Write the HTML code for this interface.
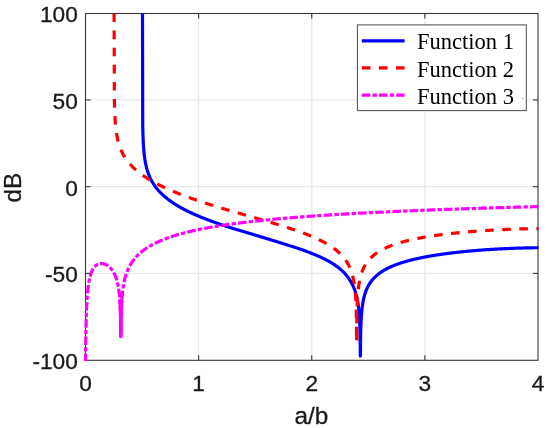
<!DOCTYPE html>
<html lang="en"><head><meta charset="utf-8"><title>Plot</title>
<style>
html,body{margin:0;padding:0;background:#fff;}
svg{display:block;}
.t{font-family:"Liberation Sans",Arial,sans-serif;fill:#1a1a1a;stroke:#1a1a1a;stroke-width:0.30px;}
.lg{font-family:"Liberation Serif","Times New Roman",serif;fill:#000;}
</style></head>
<body>
<svg width="550" height="428" viewBox="0 0 550 428">
<rect x="0" y="0" width="550" height="428" fill="#ffffff"/>
<defs><clipPath id="ax"><rect x="83.7" y="12.9" width="456.1" height="348.0"/></clipPath></defs>
<g stroke="#e9e9e9" stroke-width="1.30" fill="none">
<line x1="198.62" y1="13.50" x2="198.62" y2="360.30"/>
<line x1="311.75" y1="13.50" x2="311.75" y2="360.30"/>
<line x1="424.88" y1="13.50" x2="424.88" y2="360.30"/>
<line x1="85.50" y1="99.90" x2="538.00" y2="99.90"/>
<line x1="85.50" y1="186.70" x2="538.00" y2="186.70"/>
<line x1="85.50" y1="273.40" x2="538.00" y2="273.40"/>
</g>
<g stroke="#363636" stroke-width="1.10" fill="none">
<rect x="85.50" y="13.50" width="452.50" height="346.80"/>
<line x1="198.62" y1="360.30" x2="198.62" y2="355.20"/>
<line x1="198.62" y1="13.50" x2="198.62" y2="18.60"/>
<line x1="311.75" y1="360.30" x2="311.75" y2="355.20"/>
<line x1="311.75" y1="13.50" x2="311.75" y2="18.60"/>
<line x1="424.88" y1="360.30" x2="424.88" y2="355.20"/>
<line x1="424.88" y1="13.50" x2="424.88" y2="18.60"/>
<line x1="85.50" y1="99.90" x2="90.60" y2="99.90"/>
<line x1="538.00" y1="99.90" x2="532.90" y2="99.90"/>
<line x1="85.50" y1="186.70" x2="90.60" y2="186.70"/>
<line x1="538.00" y1="186.70" x2="532.90" y2="186.70"/>
<line x1="85.50" y1="273.40" x2="90.60" y2="273.40"/>
<line x1="538.00" y1="273.40" x2="532.90" y2="273.40"/>
</g>
<g clip-path="url(#ax)" fill="none" stroke-width="3.20" stroke-linejoin="round">
<path d="M142.48 13.50 L142.74 125.80 L143.01 136.26 L143.27 142.41 L143.53 146.78 L143.80 150.19 L144.06 152.98 L144.33 155.35 L144.59 157.41 L144.86 159.23 L145.12 160.87 L145.38 162.35 L145.65 163.71 L145.91 164.97 L146.18 166.13 L146.44 167.22 L146.70 168.24 L146.97 169.20 L147.23 170.11 L147.50 170.98 L147.76 171.80 L148.03 172.59 L148.29 173.34 L148.55 174.05 L148.82 174.75 L149.08 175.41 L149.35 176.05 L149.61 176.67 L149.88 177.27 L150.14 177.85 L150.40 178.41 L150.67 178.95 L150.93 179.48 L151.20 179.99 L151.46 180.49 L151.72 180.98 L151.99 181.45 L152.25 181.91 L152.52 182.36 L152.78 182.80 L153.05 183.24 L153.31 183.66 L153.57 184.07 L153.84 184.47 L154.10 184.87 L154.37 185.26 L154.63 185.64 L154.89 186.01 L155.16 186.38 L155.42 186.74 L155.69 187.09 L155.95 187.44 L156.22 187.78 L156.48 188.12 L156.74 188.45 L157.01 188.77 L157.27 189.09 L157.54 189.41 L157.80 189.72 L158.07 190.03 L158.33 190.33 L158.59 190.63 L158.86 190.92 L159.12 191.21 L159.39 191.49 L159.65 191.78 L159.91 192.06 L160.18 192.33 L160.44 192.60 L160.71 192.87 L160.97 193.14 L161.24 193.40 L161.50 193.66 L161.76 193.91 L162.03 194.17 L162.29 194.42 L162.56 194.66 L162.82 194.91 L163.08 195.15 L163.35 195.39 L163.61 195.63 L163.88 195.86 L164.14 196.10 L164.41 196.33 L164.67 196.56 L164.93 196.78 L165.20 197.01 L165.46 197.23 L165.73 197.45 L165.99 197.67 L166.26 197.88 L166.52 198.10 L166.78 198.31 L167.05 198.52 L167.31 198.73 L167.58 198.93 L167.84 199.14 L168.10 199.34 L168.37 199.54 L168.63 199.74 L168.90 199.94 L169.16 200.14 L169.43 200.34 L169.69 200.53 L169.95 200.72 L170.22 200.91 L170.48 201.10 L170.75 201.29 L171.01 201.48 L171.27 201.66 L171.54 201.85 L171.80 202.03 L172.07 202.21 L172.33 202.39 L172.60 202.57 L172.86 202.75 L173.12 202.93 L173.39 203.10 L173.65 203.28 L173.92 203.45 L174.18 203.63 L174.44 203.80 L174.71 203.97 L174.97 204.14 L175.24 204.30 L175.50 204.47 L175.77 204.64 L176.03 204.80 L176.29 204.97 L176.56 205.13 L176.82 205.29 L177.09 205.45 L177.35 205.62 L177.62 205.77 L177.88 205.93 L178.14 206.09 L178.41 206.25 L178.67 206.40 L178.94 206.56 L179.20 206.71 L179.46 206.87 L179.73 207.02 L179.99 207.17 L180.26 207.32 L180.52 207.47 L180.79 207.62 L181.05 207.77 L181.31 207.92 L181.58 208.07 L181.84 208.21 L182.11 208.36 L182.37 208.50 L182.63 208.64 L182.90 208.78 L183.16 208.92 L183.43 209.06 L183.69 209.20 L183.96 209.34 L184.22 209.48 L184.48 209.62 L184.75 209.75 L185.01 209.89 L185.28 210.02 L185.54 210.16 L185.81 210.29 L186.07 210.42 L186.33 210.56 L186.60 210.69 L186.86 210.82 L187.13 210.95 L187.39 211.08 L187.65 211.21 L187.92 211.33 L188.18 211.46 L188.45 211.59 L188.71 211.71 L188.98 211.84 L189.24 211.96 L189.50 212.09 L189.77 212.21 L190.03 212.34 L190.30 212.46 L190.56 212.58 L190.82 212.71 L191.09 212.83 L191.35 212.95 L191.62 213.07 L191.88 213.19 L192.15 213.31 L192.41 213.43 L192.67 213.55 L192.94 213.67 L193.20 213.79 L193.47 213.90 L193.73 214.02 L194.00 214.14 L194.26 214.26 L194.52 214.37 L194.79 214.49 L195.05 214.61 L195.32 214.72 L195.58 214.84 L195.84 214.95 L196.11 215.07 L196.37 215.18 L196.64 215.30 L196.90 215.41 L197.17 215.52 L197.43 215.64 L197.69 215.75 L197.96 215.86 L198.22 215.97 L198.49 216.08 L198.75 216.20 L199.01 216.31 L199.28 216.42 L199.54 216.53 L199.81 216.64 L200.07 216.75 L200.34 216.86 L200.60 216.96 L200.86 217.07 L201.13 217.18 L201.39 217.29 L201.66 217.40 L201.92 217.50 L202.19 217.61 L202.45 217.72 L202.71 217.82 L202.98 217.93 L203.24 218.03 L203.51 218.14 L203.77 218.24 L204.03 218.35 L204.30 218.45 L204.56 218.56 L204.83 218.66 L205.09 218.76 L205.36 218.87 L205.62 218.97 L205.88 219.07 L206.15 219.18 L206.41 219.28 L206.68 219.38 L206.94 219.48 L207.20 219.58 L207.47 219.68 L207.73 219.78 L208.00 219.88 L208.26 219.98 L208.53 220.08 L208.79 220.18 L209.05 220.28 L209.32 220.38 L209.58 220.48 L209.85 220.58 L210.11 220.68 L210.37 220.78 L210.64 220.88 L210.90 220.97 L211.17 221.07 L211.43 221.17 L211.70 221.26 L211.96 221.36 L212.22 221.46 L212.49 221.55 L212.75 221.65 L213.02 221.75 L213.28 221.84 L213.55 221.94 L213.81 222.03 L214.07 222.13 L214.34 222.22 L214.60 222.32 L214.87 222.41 L215.13 222.51 L215.39 222.60 L215.66 222.69 L215.92 222.79 L216.19 222.88 L216.45 222.97 L216.72 223.07 L216.98 223.16 L217.24 223.25 L217.51 223.34 L217.77 223.44 L218.04 223.53 L218.30 223.62 L218.56 223.71 L218.83 223.80 L219.09 223.89 L219.36 223.98 L219.62 224.07 L219.89 224.16 L220.15 224.25 L220.41 224.34 L220.68 224.43 L220.94 224.52 L221.21 224.61 L221.47 224.70 L221.74 224.79 L222.00 224.88 L222.26 224.97 L222.53 225.06 L222.79 225.15 L223.06 225.24 L223.32 225.32 L223.58 225.41 L223.85 225.50 L224.11 225.59 L224.38 225.68 L224.64 225.76 L224.91 225.85 L225.17 225.94 L225.43 226.02 L225.70 226.11 L225.96 226.20 L226.23 226.28 L226.49 226.37 L226.75 226.45 L227.02 226.54 L227.28 226.62 L227.55 226.71 L227.81 226.79 L228.08 226.88 L228.34 226.96 L228.60 227.05 L228.87 227.13 L229.13 227.21 L229.40 227.30 L229.66 227.38 L229.93 227.46 L230.19 227.55 L230.45 227.63 L230.72 227.71 L230.98 227.79 L231.25 227.88 L231.51 227.96 L231.77 228.04 L232.04 228.12 L232.30 228.20 L232.57 228.29 L232.83 228.37 L233.10 228.45 L233.36 228.53 L233.62 228.61 L233.89 228.69 L234.15 228.77 L234.42 228.85 L234.68 228.93 L234.94 229.01 L235.21 229.09 L235.47 229.17 L235.74 229.25 L236.00 229.33 L236.27 229.41 L236.53 229.49 L236.79 229.57 L237.06 229.65 L237.32 229.73 L237.59 229.81 L237.85 229.89 L238.11 229.97 L238.38 230.05 L238.64 230.13 L238.91 230.21 L239.17 230.28 L239.44 230.36 L239.70 230.44 L239.96 230.52 L240.23 230.60 L240.49 230.68 L240.76 230.76 L241.02 230.83 L241.29 230.91 L241.55 230.99 L241.81 231.07 L242.08 231.15 L242.34 231.23 L242.61 231.30 L242.87 231.38 L243.13 231.46 L243.40 231.54 L243.66 231.62 L243.93 231.70 L244.19 231.77 L244.46 231.85 L244.72 231.93 L244.98 232.01 L245.25 232.09 L245.51 232.17 L245.78 232.24 L246.04 232.32 L246.30 232.40 L246.57 232.48 L246.83 232.56 L247.10 232.64 L247.36 232.71 L247.63 232.79 L247.89 232.87 L248.15 232.95 L248.42 233.03 L248.68 233.11 L248.95 233.18 L249.21 233.26 L249.48 233.34 L249.74 233.42 L250.00 233.50 L250.27 233.58 L250.53 233.66 L250.80 233.74 L251.06 233.82 L251.32 233.90 L251.59 233.98 L251.85 234.05 L252.12 234.13 L252.38 234.21 L252.65 234.29 L252.91 234.37 L253.17 234.45 L253.44 234.53 L253.70 234.61 L253.97 234.69 L254.23 234.78 L254.49 234.86 L254.76 234.94 L255.02 235.02 L255.29 235.10 L255.55 235.18 L255.82 235.26 L256.08 235.34 L256.34 235.42 L256.61 235.50 L256.87 235.58 L257.14 235.66 L257.40 235.74 L257.67 235.82 L257.93 235.90 L258.19 235.99 L258.46 236.07 L258.72 236.15 L258.99 236.23 L259.25 236.31 L259.51 236.39 L259.78 236.47 L260.04 236.55 L260.31 236.63 L260.57 236.71 L260.84 236.79 L261.10 236.87 L261.36 236.95 L261.63 237.03 L261.89 237.11 L262.16 237.19 L262.42 237.27 L262.68 237.35 L262.95 237.43 L263.21 237.51 L263.48 237.59 L263.74 237.67 L264.01 237.75 L264.27 237.83 L264.53 237.92 L264.80 238.00 L265.06 238.08 L265.33 238.16 L265.59 238.24 L265.86 238.32 L266.12 238.40 L266.38 238.48 L266.65 238.56 L266.91 238.64 L267.18 238.72 L267.44 238.80 L267.70 238.88 L267.97 238.96 L268.23 239.04 L268.50 239.12 L268.76 239.20 L269.03 239.28 L269.29 239.36 L269.55 239.44 L269.82 239.52 L270.08 239.60 L270.35 239.68 L270.61 239.77 L270.87 239.85 L271.14 239.93 L271.40 240.01 L271.67 240.09 L271.93 240.17 L272.20 240.25 L272.46 240.33 L272.72 240.41 L272.99 240.49 L273.25 240.57 L273.52 240.65 L273.78 240.74 L274.04 240.82 L274.31 240.90 L274.57 240.98 L274.84 241.06 L275.10 241.14 L275.37 241.22 L275.63 241.30 L275.89 241.39 L276.16 241.47 L276.42 241.55 L276.69 241.63 L276.95 241.71 L277.22 241.79 L277.48 241.88 L277.74 241.96 L278.01 242.04 L278.27 242.12 L278.54 242.20 L278.80 242.29 L279.06 242.37 L279.33 242.45 L279.59 242.53 L279.86 242.61 L280.12 242.70 L280.39 242.78 L280.65 242.86 L280.91 242.94 L281.18 243.03 L281.44 243.11 L281.71 243.19 L281.97 243.28 L282.23 243.36 L282.50 243.44 L282.76 243.52 L283.03 243.61 L283.29 243.69 L283.56 243.77 L283.82 243.86 L284.08 243.94 L284.35 244.03 L284.61 244.11 L284.88 244.19 L285.14 244.28 L285.41 244.36 L285.67 244.44 L285.93 244.53 L286.20 244.61 L286.46 244.69 L286.73 244.78 L286.99 244.86 L287.25 244.94 L287.52 245.02 L287.78 245.10 L288.05 245.19 L288.31 245.27 L288.58 245.35 L288.84 245.43 L289.10 245.51 L289.37 245.59 L289.63 245.68 L289.90 245.76 L290.16 245.84 L290.42 245.92 L290.69 246.00 L290.95 246.08 L291.22 246.16 L291.48 246.25 L291.75 246.33 L292.01 246.41 L292.27 246.49 L292.54 246.57 L292.80 246.66 L293.07 246.74 L293.33 246.82 L293.60 246.90 L293.86 246.99 L294.12 247.07 L294.39 247.15 L294.65 247.24 L294.92 247.32 L295.18 247.41 L295.44 247.49 L295.71 247.58 L295.97 247.66 L296.24 247.75 L296.50 247.83 L296.77 247.92 L297.03 248.01 L297.29 248.09 L297.56 248.18 L297.82 248.27 L298.09 248.36 L298.35 248.45 L298.61 248.54 L298.88 248.63 L299.14 248.72 L299.41 248.81 L299.67 248.90 L299.94 248.99 L300.20 249.08 L300.46 249.18 L300.73 249.27 L300.99 249.36 L301.26 249.46 L301.52 249.55 L301.78 249.64 L302.05 249.74 L302.31 249.83 L302.58 249.93 L302.84 250.02 L303.11 250.12 L303.37 250.21 L303.63 250.31 L303.90 250.41 L304.16 250.50 L304.43 250.60 L304.69 250.69 L304.96 250.79 L305.22 250.89 L305.48 250.99 L305.75 251.08 L306.01 251.18 L306.28 251.28 L306.54 251.38 L306.80 251.48 L307.07 251.58 L307.33 251.68 L307.60 251.78 L307.86 251.88 L308.13 251.98 L308.39 252.08 L308.65 252.18 L308.92 252.28 L309.18 252.38 L309.45 252.49 L309.71 252.59 L309.97 252.69 L310.24 252.79 L310.50 252.90 L310.77 253.00 L311.03 253.11 L311.30 253.21 L311.56 253.32 L311.82 253.42 L312.09 253.53 L312.35 253.63 L312.62 253.74 L312.88 253.85 L313.15 253.96 L313.41 254.06 L313.67 254.17 L313.94 254.28 L314.20 254.39 L314.47 254.50 L314.73 254.61 L314.99 254.72 L315.26 254.83 L315.52 254.94 L315.79 255.05 L316.05 255.16 L316.32 255.28 L316.58 255.39 L316.84 255.50 L317.11 255.62 L317.37 255.73 L317.64 255.85 L317.90 255.96 L318.16 256.08 L318.43 256.20 L318.69 256.31 L318.96 256.43 L319.22 256.55 L319.49 256.67 L319.75 256.79 L320.01 256.91 L320.28 257.03 L320.54 257.15 L320.81 257.27 L321.07 257.40 L321.34 257.52 L321.60 257.64 L321.86 257.77 L322.13 257.89 L322.39 258.02 L322.66 258.14 L322.92 258.27 L323.18 258.40 L323.45 258.53 L323.71 258.66 L323.98 258.79 L324.24 258.92 L324.51 259.05 L324.77 259.18 L325.03 259.31 L325.30 259.45 L325.56 259.58 L325.83 259.72 L326.09 259.85 L326.35 259.99 L326.62 260.13 L326.88 260.27 L327.15 260.41 L327.41 260.55 L327.68 260.69 L327.94 260.83 L328.20 260.97 L328.47 261.12 L328.73 261.26 L329.00 261.41 L329.26 261.56 L329.53 261.70 L329.79 261.85 L330.05 262.00 L330.32 262.16 L330.58 262.31 L330.85 262.46 L331.11 262.62 L331.37 262.78 L331.64 262.94 L331.90 263.10 L332.17 263.26 L332.43 263.42 L332.70 263.59 L332.96 263.76 L333.22 263.93 L333.49 264.10 L333.75 264.27 L334.02 264.44 L334.28 264.62 L334.54 264.80 L334.81 264.97 L335.07 265.16 L335.34 265.34 L335.60 265.52 L335.87 265.71 L336.13 265.90 L336.39 266.09 L336.66 266.28 L336.92 266.48 L337.19 266.67 L337.45 266.87 L337.71 267.07 L337.98 267.27 L338.24 267.48 L338.51 267.69 L338.77 267.90 L339.04 268.11 L339.30 268.32 L339.56 268.54 L339.83 268.76 L340.09 268.98 L340.36 269.21 L340.62 269.44 L340.89 269.67 L341.15 269.90 L341.41 270.14 L341.68 270.37 L341.94 270.62 L342.21 270.86 L342.47 271.11 L342.73 271.36 L343.00 271.62 L343.26 271.88 L343.53 272.14 L343.79 272.40 L344.06 272.67 L344.32 272.95 L344.58 273.23 L344.85 273.51 L345.11 273.80 L345.38 274.09 L345.64 274.39 L345.90 274.69 L346.17 275.00 L346.43 275.32 L346.70 275.64 L346.96 275.97 L347.23 276.31 L347.49 276.65 L347.75 277.00 L348.02 277.36 L348.28 277.72 L348.55 278.10 L348.81 278.48 L349.08 278.86 L349.34 279.26 L349.60 279.66 L349.87 280.08 L350.13 280.50 L350.40 280.93 L350.66 281.38 L350.92 281.83 L351.19 282.30 L351.45 282.77 L351.72 283.26 L351.98 283.76 L352.25 284.28 L352.51 284.81 L352.77 285.36 L353.04 285.92 L353.30 286.50 L353.57 287.11 L353.83 287.74 L354.09 288.39 L354.36 289.07 L354.62 289.78 L354.89 290.52 L355.15 291.29 L355.42 292.11 L355.68 292.96 L355.94 293.87 L356.21 294.82 L356.47 295.84 L356.74 296.93 L356.98 297.99 L357.17 298.88 L357.27 299.35 L357.35 299.76 L357.52 300.65 L357.67 301.53 L357.79 302.22 L357.97 303.29 L358.06 303.88 L358.10 304.18 L358.23 305.05 L358.32 305.74 L358.46 306.81 L358.57 307.69 L358.67 308.56 L358.76 309.44 L358.85 310.30 L358.94 311.19 L359.02 312.06 L359.09 312.94 L359.16 313.81 L359.23 314.68 L359.29 315.56 L359.35 316.43 L359.38 316.82 L359.41 317.30 L359.46 318.17 L359.51 319.04 L359.56 319.91 L359.60 320.79 L359.64 321.57 L359.69 322.53 L359.72 323.40 L359.76 324.27 L359.79 325.14 L359.83 326.01 L359.86 326.88 L359.88 327.75 L359.91 328.51 L359.94 329.49 L359.96 330.35 L359.98 331.22 L360.00 332.09 L360.02 332.96 L360.04 333.83 L360.06 334.70 L360.08 335.57 L360.09 336.44 L360.11 337.31 L360.12 338.18 L360.13 339.04 L360.15 339.91 L360.16 340.78 L360.17 341.65 L360.18 342.52 L360.19 343.39 L360.20 344.25 L360.21 345.12 L360.22 345.99 L360.22 346.86 L360.23 347.73 L360.24 348.60 L360.25 349.46 L360.25 350.33 L360.26 351.20 L360.26 352.07 L360.27 352.94 L360.27 353.81 L360.28 354.67 L360.28 355.54 L360.29 356.04 L360.43 355.55 L360.44 354.98 L360.44 353.82 L360.45 352.95 L360.45 352.08 L360.46 351.21 L360.46 350.35 L360.47 349.48 L360.48 348.61 L360.48 347.74 L360.49 346.88 L360.50 346.01 L360.51 345.14 L360.52 344.27 L360.53 343.41 L360.54 342.54 L360.55 341.67 L360.56 340.80 L360.57 339.94 L360.58 339.07 L360.59 338.20 L360.61 337.34 L360.62 336.47 L360.64 335.60 L360.66 334.73 L360.67 333.87 L360.69 333.00 L360.71 332.13 L360.73 331.27 L360.76 330.40 L360.78 329.53 L360.81 328.67 L360.83 327.80 L360.86 326.94 L360.89 326.07 L360.92 325.20 L360.96 324.34 L360.99 323.47 L361.03 322.61 L361.07 321.74 L361.11 320.87 L361.16 320.01 L361.20 319.14 L361.23 318.71 L361.25 318.28 L361.31 317.41 L361.36 316.55 L361.42 315.68 L361.49 314.82 L361.55 313.96 L361.62 313.09 L361.70 312.23 L361.76 311.61 L361.86 310.50 L361.95 309.64 L362.02 309.02 L362.15 307.92 L362.25 307.05 L362.37 306.19 L362.49 305.33 L362.55 304.91 L362.61 304.47 L362.75 303.61 L362.81 303.21 L362.89 302.75 L363.04 301.89 L363.20 301.03 L363.34 300.31 L363.55 299.32 L363.61 299.05 L363.74 298.46 L363.87 297.89 L363.94 297.60 L364.13 296.82 L364.40 295.82 L364.66 294.88 L364.93 294.00 L365.19 293.17 L365.45 292.38 L365.72 291.64 L365.98 290.93 L366.25 290.26 L366.51 289.61 L366.78 288.99 L367.04 288.40 L367.30 287.83 L367.57 287.29 L367.83 286.76 L368.10 286.25 L368.36 285.76 L368.63 285.29 L368.89 284.83 L369.15 284.39 L369.42 283.96 L369.68 283.54 L369.95 283.13 L370.21 282.74 L370.47 282.36 L370.74 281.98 L371.00 281.62 L371.27 281.26 L371.53 280.92 L371.80 280.58 L372.06 280.25 L372.32 279.93 L372.59 279.62 L372.85 279.31 L373.12 279.01 L373.38 278.72 L373.64 278.43 L373.91 278.15 L374.17 277.87 L374.44 277.60 L374.70 277.33 L374.97 277.07 L375.23 276.82 L375.49 276.57 L375.76 276.32 L376.02 276.08 L376.29 275.84 L376.55 275.61 L376.82 275.38 L377.08 275.15 L377.34 274.93 L377.61 274.71 L377.87 274.50 L378.14 274.28 L378.40 274.08 L378.66 273.87 L378.93 273.67 L379.19 273.47 L379.46 273.27 L379.72 273.08 L379.99 272.89 L380.25 272.70 L380.51 272.52 L380.78 272.33 L381.04 272.15 L381.31 271.98 L381.57 271.80 L381.83 271.63 L382.10 271.46 L382.36 271.29 L382.63 271.12 L382.89 270.96 L383.16 270.80 L383.42 270.64 L383.68 270.48 L383.95 270.32 L384.21 270.17 L384.48 270.02 L384.74 269.87 L385.01 269.72 L385.27 269.57 L385.53 269.42 L385.80 269.28 L386.06 269.14 L386.33 269.00 L386.59 268.86 L386.85 268.72 L387.12 268.58 L387.38 268.45 L387.65 268.31 L387.91 268.18 L388.18 268.05 L388.44 267.92 L388.70 267.79 L388.97 267.67 L389.23 267.54 L389.50 267.42 L389.76 267.29 L390.02 267.17 L390.29 267.05 L390.55 266.93 L390.82 266.81 L391.08 266.70 L391.35 266.58 L391.61 266.46 L391.87 266.35 L392.14 266.24 L392.40 266.12 L392.67 266.01 L392.93 265.90 L393.20 265.79 L393.46 265.69 L393.72 265.58 L393.99 265.47 L394.25 265.37 L394.52 265.26 L394.78 265.16 L395.04 265.06 L395.31 264.95 L395.57 264.85 L395.84 264.75 L396.10 264.65 L396.37 264.56 L396.63 264.46 L396.89 264.36 L397.16 264.26 L397.42 264.17 L397.69 264.07 L397.95 263.98 L398.21 263.89 L398.48 263.80 L398.74 263.70 L399.01 263.61 L399.27 263.52 L399.54 263.43 L399.80 263.34 L400.06 263.25 L400.33 263.17 L400.59 263.08 L400.86 262.99 L401.12 262.91 L401.38 262.82 L401.65 262.74 L401.91 262.65 L402.18 262.57 L402.44 262.49 L402.71 262.41 L402.97 262.32 L403.23 262.24 L403.50 262.16 L403.76 262.08 L404.03 262.00 L404.29 261.92 L404.56 261.84 L404.82 261.77 L405.08 261.69 L405.35 261.61 L405.61 261.54 L405.88 261.46 L406.14 261.39 L406.40 261.31 L406.67 261.24 L406.93 261.16 L407.20 261.09 L407.46 261.02 L407.73 260.94 L407.99 260.87 L408.25 260.80 L408.52 260.73 L408.78 260.66 L409.05 260.59 L409.31 260.52 L409.57 260.45 L409.84 260.38 L410.10 260.31 L410.37 260.24 L410.63 260.18 L410.90 260.11 L411.16 260.04 L411.42 259.97 L411.69 259.91 L411.95 259.84 L412.22 259.78 L412.48 259.71 L412.75 259.65 L413.01 259.58 L413.27 259.52 L413.54 259.46 L413.80 259.39 L414.07 259.33 L414.33 259.27 L414.59 259.21 L414.86 259.14 L415.12 259.08 L415.39 259.02 L415.65 258.96 L415.92 258.90 L416.18 258.84 L416.44 258.78 L416.71 258.72 L416.97 258.66 L417.24 258.60 L417.50 258.55 L417.76 258.49 L418.03 258.43 L418.29 258.37 L418.56 258.32 L418.82 258.26 L419.09 258.20 L419.35 258.15 L419.61 258.09 L419.88 258.04 L420.14 257.98 L420.41 257.92 L420.67 257.87 L420.94 257.82 L421.20 257.76 L421.46 257.71 L421.73 257.65 L421.99 257.60 L422.26 257.55 L422.52 257.49 L422.78 257.44 L423.05 257.39 L423.31 257.34 L423.58 257.29 L423.84 257.23 L424.11 257.18 L424.37 257.13 L424.63 257.08 L424.90 257.03 L425.16 256.98 L425.43 256.93 L425.69 256.88 L425.95 256.83 L426.22 256.78 L426.48 256.73 L426.75 256.68 L427.01 256.64 L427.28 256.59 L427.54 256.54 L427.80 256.49 L428.07 256.44 L428.33 256.40 L428.60 256.35 L428.86 256.30 L429.12 256.26 L429.39 256.21 L429.65 256.16 L429.92 256.12 L430.18 256.07 L430.45 256.03 L430.71 255.98 L430.97 255.94 L431.24 255.89 L431.50 255.85 L431.77 255.80 L432.03 255.76 L432.30 255.71 L432.56 255.67 L432.82 255.63 L433.09 255.58 L433.35 255.54 L433.62 255.50 L433.88 255.45 L434.14 255.41 L434.41 255.37 L434.67 255.32 L434.94 255.28 L435.20 255.24 L435.47 255.20 L435.73 255.16 L435.99 255.12 L436.26 255.07 L436.52 255.03 L436.79 254.99 L437.05 254.95 L437.31 254.91 L437.58 254.87 L437.84 254.83 L438.11 254.79 L438.37 254.75 L438.64 254.71 L438.90 254.67 L439.16 254.63 L439.43 254.59 L439.69 254.55 L439.96 254.52 L440.22 254.48 L440.49 254.44 L440.75 254.40 L441.01 254.36 L441.28 254.32 L441.54 254.29 L441.81 254.25 L442.07 254.21 L442.33 254.17 L442.60 254.14 L442.86 254.10 L443.13 254.06 L443.39 254.03 L443.66 253.99 L443.92 253.95 L444.18 253.92 L444.45 253.88 L444.71 253.85 L445.24 253.77 L445.77 253.70 L446.30 253.63 L446.83 253.56 L447.35 253.50 L447.88 253.43 L448.41 253.36 L448.94 253.29 L449.47 253.23 L450.00 253.16 L450.52 253.09 L451.05 253.03 L451.58 252.96 L452.11 252.90 L452.64 252.84 L453.17 252.77 L453.69 252.71 L454.22 252.65 L454.75 252.59 L455.28 252.53 L455.81 252.47 L456.34 252.41 L456.87 252.35 L457.39 252.29 L457.92 252.23 L458.45 252.17 L458.98 252.12 L459.51 252.06 L460.04 252.00 L460.56 251.95 L461.09 251.89 L461.62 251.84 L462.15 251.78 L462.68 251.73 L463.21 251.68 L463.73 251.62 L464.26 251.57 L464.79 251.52 L465.32 251.47 L465.85 251.41 L466.38 251.36 L466.90 251.31 L467.43 251.26 L467.96 251.21 L468.49 251.16 L469.02 251.12 L469.55 251.07 L470.07 251.02 L470.60 250.97 L471.13 250.92 L471.66 250.88 L472.19 250.83 L472.72 250.78 L473.24 250.74 L473.77 250.69 L474.30 250.65 L474.83 250.60 L475.36 250.56 L475.89 250.52 L476.42 250.47 L476.94 250.43 L477.47 250.39 L478.00 250.35 L478.53 250.30 L479.06 250.26 L479.59 250.22 L480.11 250.18 L480.64 250.14 L481.17 250.10 L481.70 250.06 L482.23 250.02 L482.76 249.98 L483.28 249.95 L483.81 249.91 L484.34 249.87 L484.87 249.83 L485.40 249.80 L485.93 249.76 L486.45 249.72 L486.98 249.69 L487.51 249.65 L488.04 249.62 L488.57 249.58 L489.10 249.55 L489.62 249.51 L490.15 249.48 L490.68 249.44 L491.21 249.41 L491.74 249.38 L492.27 249.35 L492.79 249.31 L493.32 249.28 L493.85 249.25 L494.38 249.22 L494.91 249.19 L495.44 249.16 L495.97 249.13 L496.49 249.10 L497.02 249.07 L497.55 249.04 L498.08 249.01 L498.61 248.98 L499.14 248.95 L499.66 248.93 L500.19 248.90 L500.72 248.87 L501.25 248.84 L501.78 248.82 L502.31 248.79 L502.83 248.76 L503.36 248.74 L503.89 248.71 L504.42 248.69 L504.95 248.66 L505.48 248.64 L506.00 248.62 L506.53 248.59 L507.06 248.57 L507.59 248.55 L508.12 248.52 L508.65 248.50 L509.17 248.48 L509.70 248.46 L510.23 248.43 L510.76 248.41 L511.29 248.39 L511.82 248.37 L512.35 248.35 L512.87 248.33 L513.40 248.31 L513.93 248.29 L514.46 248.27 L514.99 248.25 L515.52 248.23 L516.04 248.22 L516.57 248.20 L517.10 248.18 L517.63 248.16 L518.16 248.15 L518.69 248.13 L519.21 248.11 L519.74 248.10 L520.27 248.08 L520.80 248.07 L521.33 248.05 L521.86 248.04 L522.38 248.02 L522.91 248.01 L523.44 247.99 L523.97 247.98 L524.50 247.97 L525.03 247.95 L525.55 247.94 L526.08 247.93 L526.61 247.91 L527.14 247.90 L527.67 247.89 L528.20 247.88 L528.72 247.87 L529.25 247.86 L529.78 247.85 L530.31 247.84 L530.84 247.83 L531.37 247.82 L531.90 247.81 L532.42 247.80 L532.95 247.79 L533.48 247.78 L534.01 247.77 L534.54 247.77 L535.07 247.76 L535.59 247.75 L536.12 247.74 L536.65 247.74 L537.18 247.73 L537.71 247.73 L538.24 247.72 L538.50 247.72" stroke="#0000ff"/>
<path d="M114.09 13.50 L114.37 100.62 L114.65 111.09 L114.94 117.24 L115.22 121.62 L115.50 125.02 L115.79 127.82 L116.07 130.19 L116.35 132.25 L116.64 134.08 L116.92 135.71 L117.20 137.20 L117.49 138.56 L117.77 139.82 L118.05 140.99 L118.33 142.08 L118.62 143.10 L118.90 144.07 L119.18 144.98 L119.47 145.85 L119.75 146.67 L120.03 147.46 L120.32 148.22 L120.60 148.94 L120.88 149.63 L121.17 150.30 L121.45 150.94 L121.73 151.56 L122.02 152.16 L122.30 152.74 L122.58 153.31 L122.86 153.85 L123.15 154.38 L123.43 154.90 L123.71 155.40 L124.00 155.89 L124.28 156.37 L124.56 156.83 L124.85 157.29 L125.13 157.73 L125.41 158.16 L125.70 158.59 L125.98 159.00 L126.26 159.41 L126.55 159.81 L126.83 160.20 L127.11 160.58 L127.39 160.96 L127.68 161.33 L127.96 161.69 L128.24 162.05 L128.53 162.40 L128.81 162.74 L129.09 163.08 L129.38 163.41 L129.66 163.74 L129.94 164.06 L130.23 164.38 L130.51 164.70 L130.79 165.01 L131.08 165.31 L131.36 165.61 L131.64 165.91 L131.93 166.20 L132.21 166.49 L132.49 166.77 L132.77 167.05 L133.06 167.33 L133.34 167.61 L133.62 167.88 L133.91 168.15 L134.19 168.41 L134.47 168.67 L134.76 168.93 L135.04 169.19 L135.32 169.44 L135.61 169.69 L135.89 169.94 L136.17 170.18 L136.46 170.43 L136.74 170.67 L137.02 170.91 L137.30 171.14 L137.59 171.37 L137.87 171.61 L138.15 171.83 L138.44 172.06 L138.72 172.29 L139.00 172.51 L139.29 172.73 L139.57 172.95 L139.85 173.16 L140.14 173.38 L140.42 173.59 L140.70 173.80 L140.99 174.01 L141.27 174.22 L141.55 174.43 L141.83 174.63 L142.12 174.84 L142.40 175.04 L142.68 175.24 L142.97 175.43 L143.25 175.63 L143.53 175.83 L143.82 176.02 L144.10 176.21 L144.38 176.40 L144.67 176.59 L144.95 176.78 L145.23 176.97 L145.52 177.16 L145.80 177.34 L146.08 177.52 L146.36 177.71 L146.65 177.89 L146.93 178.07 L147.21 178.25 L147.50 178.42 L147.78 178.60 L148.06 178.78 L148.35 178.95 L148.63 179.12 L148.91 179.29 L149.20 179.47 L149.48 179.64 L149.76 179.81 L150.05 179.97 L150.33 180.14 L150.61 180.31 L150.89 180.47 L151.18 180.64 L151.46 180.80 L151.74 180.96 L152.03 181.12 L152.31 181.28 L152.59 181.44 L152.88 181.60 L153.16 181.76 L153.44 181.92 L153.73 182.08 L154.01 182.23 L154.29 182.39 L154.58 182.54 L154.86 182.69 L155.14 182.85 L155.42 183.00 L155.71 183.15 L155.99 183.30 L156.27 183.45 L156.56 183.60 L156.84 183.75 L157.12 183.89 L157.41 184.04 L157.69 184.19 L157.97 184.33 L158.26 184.48 L158.54 184.62 L158.82 184.76 L159.11 184.91 L159.39 185.05 L159.67 185.19 L159.95 185.33 L160.24 185.47 L160.52 185.61 L160.80 185.75 L161.09 185.89 L161.37 186.03 L161.65 186.17 L161.94 186.30 L162.22 186.44 L162.50 186.58 L162.79 186.71 L163.07 186.85 L163.35 186.98 L163.64 187.11 L163.92 187.25 L164.20 187.38 L164.49 187.51 L164.77 187.64 L165.05 187.78 L165.33 187.91 L165.62 188.04 L165.90 188.17 L166.18 188.30 L166.47 188.42 L166.75 188.55 L167.03 188.68 L167.32 188.81 L167.60 188.93 L167.88 189.06 L168.17 189.19 L168.45 189.31 L168.73 189.44 L169.02 189.56 L169.30 189.69 L169.58 189.81 L169.86 189.93 L170.15 190.06 L170.43 190.18 L170.71 190.30 L171.00 190.42 L171.28 190.55 L171.56 190.67 L171.85 190.79 L172.13 190.91 L172.41 191.03 L172.70 191.15 L172.98 191.27 L173.26 191.38 L173.55 191.50 L173.83 191.62 L174.11 191.74 L174.39 191.86 L174.68 191.97 L174.96 192.09 L175.24 192.21 L175.53 192.32 L175.81 192.44 L176.09 192.55 L176.38 192.67 L176.66 192.78 L176.94 192.90 L177.23 193.01 L177.51 193.12 L177.79 193.24 L178.08 193.35 L178.36 193.46 L178.64 193.57 L178.92 193.69 L179.21 193.80 L179.49 193.91 L179.77 194.02 L180.06 194.13 L180.34 194.24 L180.62 194.35 L180.91 194.46 L181.19 194.57 L181.47 194.68 L181.76 194.79 L182.04 194.90 L182.32 195.01 L182.61 195.12 L182.89 195.22 L183.17 195.33 L183.45 195.44 L183.74 195.55 L184.02 195.65 L184.30 195.76 L184.59 195.86 L184.87 195.97 L185.15 196.08 L185.44 196.18 L185.72 196.29 L186.00 196.39 L186.29 196.50 L186.57 196.60 L186.85 196.71 L187.14 196.81 L187.42 196.91 L187.70 197.02 L187.98 197.12 L188.27 197.22 L188.55 197.33 L188.83 197.43 L189.12 197.53 L189.40 197.63 L189.68 197.74 L189.97 197.84 L190.25 197.94 L190.53 198.04 L190.82 198.14 L191.10 198.24 L191.38 198.34 L191.67 198.44 L191.95 198.54 L192.23 198.64 L192.51 198.74 L192.80 198.84 L193.08 198.94 L193.36 199.04 L193.65 199.14 L193.93 199.24 L194.21 199.34 L194.50 199.44 L194.78 199.53 L195.06 199.63 L195.35 199.73 L195.63 199.83 L195.91 199.93 L196.20 200.02 L196.48 200.12 L196.76 200.22 L197.04 200.31 L197.33 200.41 L197.61 200.51 L197.89 200.60 L198.18 200.70 L198.46 200.79 L198.74 200.89 L199.03 200.99 L199.31 201.08 L199.59 201.18 L199.88 201.27 L200.16 201.37 L200.44 201.46 L200.73 201.55 L201.01 201.65 L201.29 201.74 L201.58 201.84 L201.86 201.93 L202.14 202.02 L202.42 202.12 L202.71 202.21 L202.99 202.30 L203.27 202.40 L203.56 202.49 L203.84 202.58 L204.12 202.68 L204.41 202.77 L204.69 202.86 L204.97 202.95 L205.26 203.04 L205.54 203.14 L205.82 203.23 L206.11 203.32 L206.39 203.41 L206.67 203.50 L206.95 203.59 L207.24 203.68 L207.52 203.77 L207.80 203.87 L208.09 203.96 L208.37 204.05 L208.65 204.14 L208.94 204.23 L209.22 204.32 L209.50 204.41 L209.79 204.50 L210.07 204.59 L210.35 204.68 L210.64 204.77 L210.92 204.85 L211.20 204.94 L211.48 205.03 L211.77 205.12 L212.05 205.21 L212.33 205.30 L212.62 205.39 L212.90 205.48 L213.18 205.56 L213.47 205.65 L213.75 205.74 L214.03 205.83 L214.32 205.92 L214.60 206.01 L214.88 206.09 L215.17 206.18 L215.45 206.27 L215.73 206.36 L216.01 206.44 L216.30 206.53 L216.58 206.62 L216.86 206.70 L217.15 206.79 L217.43 206.88 L217.71 206.96 L218.00 207.05 L218.28 207.14 L218.56 207.22 L218.85 207.31 L219.13 207.40 L219.41 207.48 L219.70 207.57 L219.98 207.65 L220.26 207.74 L220.54 207.83 L220.83 207.91 L221.11 208.00 L221.39 208.08 L221.68 208.17 L221.96 208.25 L222.24 208.34 L222.53 208.42 L222.81 208.51 L223.09 208.59 L223.38 208.68 L223.66 208.76 L223.94 208.85 L224.23 208.93 L224.51 209.02 L224.79 209.10 L225.07 209.19 L225.36 209.27 L225.64 209.35 L225.92 209.44 L226.21 209.52 L226.49 209.61 L226.77 209.69 L227.06 209.77 L227.34 209.86 L227.62 209.94 L227.91 210.03 L228.19 210.11 L228.47 210.19 L228.76 210.28 L229.04 210.36 L229.32 210.44 L229.60 210.53 L229.89 210.61 L230.17 210.69 L230.45 210.78 L230.74 210.86 L231.02 210.94 L231.30 211.02 L231.59 211.11 L231.87 211.19 L232.15 211.27 L232.44 211.36 L232.72 211.44 L233.00 211.52 L233.29 211.60 L233.57 211.69 L233.85 211.77 L234.14 211.85 L234.42 211.93 L234.70 212.02 L234.98 212.10 L235.27 212.18 L235.55 212.26 L235.83 212.34 L236.12 212.43 L236.40 212.51 L236.68 212.59 L236.97 212.67 L237.25 212.75 L237.53 212.84 L237.82 212.92 L238.10 213.00 L238.38 213.08 L238.67 213.16 L238.95 213.25 L239.23 213.33 L239.51 213.41 L239.80 213.49 L240.08 213.57 L240.36 213.65 L240.65 213.74 L240.93 213.82 L241.21 213.90 L241.50 213.98 L241.78 214.06 L242.06 214.14 L242.35 214.22 L242.63 214.31 L242.91 214.39 L243.20 214.47 L243.48 214.55 L243.76 214.63 L244.04 214.71 L244.33 214.79 L244.61 214.88 L244.89 214.96 L245.18 215.04 L245.46 215.12 L245.74 215.20 L246.03 215.28 L246.31 215.36 L246.59 215.44 L246.88 215.52 L247.16 215.61 L247.44 215.69 L247.73 215.77 L248.01 215.85 L248.29 215.93 L248.57 216.01 L248.86 216.09 L249.14 216.17 L249.42 216.25 L249.71 216.34 L249.99 216.42 L250.27 216.50 L250.56 216.58 L250.84 216.66 L251.12 216.74 L251.41 216.82 L251.69 216.90 L251.97 216.98 L252.26 217.07 L252.54 217.15 L252.82 217.23 L253.10 217.31 L253.39 217.39 L253.67 217.47 L253.95 217.55 L254.24 217.63 L254.52 217.72 L254.80 217.80 L255.09 217.88 L255.37 217.96 L255.65 218.04 L255.94 218.12 L256.22 218.20 L256.50 218.28 L256.79 218.37 L257.07 218.45 L257.35 218.53 L257.63 218.61 L257.92 218.69 L258.20 218.77 L258.48 218.85 L258.77 218.94 L259.05 219.02 L259.33 219.10 L259.62 219.18 L259.90 219.26 L260.18 219.34 L260.47 219.43 L260.75 219.51 L261.03 219.59 L261.32 219.67 L261.60 219.75 L261.88 219.84 L262.16 219.92 L262.45 220.00 L262.73 220.08 L263.01 220.16 L263.30 220.25 L263.58 220.33 L263.86 220.41 L264.15 220.49 L264.43 220.58 L264.71 220.66 L265.00 220.74 L265.28 220.82 L265.56 220.91 L265.85 220.99 L266.13 221.07 L266.41 221.15 L266.70 221.24 L266.98 221.32 L267.26 221.40 L267.54 221.49 L267.83 221.57 L268.11 221.65 L268.39 221.74 L268.68 221.82 L268.96 221.90 L269.24 221.99 L269.53 222.07 L269.81 222.15 L270.09 222.24 L270.38 222.32 L270.66 222.40 L270.94 222.49 L271.23 222.57 L271.51 222.66 L271.79 222.74 L272.07 222.82 L272.36 222.91 L272.64 222.99 L272.92 223.08 L273.21 223.16 L273.49 223.25 L273.77 223.33 L274.06 223.42 L274.34 223.50 L274.62 223.59 L274.91 223.67 L275.19 223.76 L275.47 223.84 L275.76 223.93 L276.04 224.01 L276.32 224.10 L276.60 224.19 L276.89 224.27 L277.17 224.36 L277.45 224.44 L277.74 224.53 L278.02 224.62 L278.30 224.70 L278.59 224.79 L278.87 224.88 L279.15 224.96 L279.44 225.05 L279.72 225.14 L280.00 225.22 L280.29 225.31 L280.57 225.40 L280.85 225.49 L281.13 225.57 L281.42 225.66 L281.70 225.75 L281.98 225.84 L282.27 225.93 L282.55 226.02 L282.83 226.10 L283.12 226.19 L283.40 226.28 L283.68 226.37 L283.97 226.46 L284.25 226.55 L284.53 226.64 L284.82 226.73 L285.10 226.82 L285.38 226.91 L285.66 227.00 L285.95 227.09 L286.23 227.18 L286.51 227.27 L286.80 227.36 L287.08 227.45 L287.36 227.54 L287.65 227.63 L287.93 227.73 L288.21 227.82 L288.50 227.91 L288.78 228.00 L289.06 228.09 L289.35 228.19 L289.63 228.28 L289.91 228.37 L290.19 228.47 L290.48 228.56 L290.76 228.65 L291.04 228.75 L291.33 228.84 L291.61 228.93 L291.89 229.03 L292.18 229.12 L292.46 229.22 L292.74 229.31 L293.03 229.41 L293.31 229.50 L293.59 229.60 L293.88 229.70 L294.16 229.79 L294.44 229.89 L294.72 229.99 L295.01 230.08 L295.29 230.18 L295.57 230.28 L295.86 230.38 L296.14 230.47 L296.42 230.57 L296.71 230.67 L296.99 230.77 L297.27 230.87 L297.56 230.97 L297.84 231.07 L298.12 231.17 L298.41 231.27 L298.69 231.37 L298.97 231.47 L299.25 231.57 L299.54 231.67 L299.82 231.77 L300.10 231.88 L300.39 231.98 L300.67 232.08 L300.95 232.18 L301.24 232.29 L301.52 232.39 L301.80 232.50 L302.09 232.60 L302.37 232.70 L302.65 232.81 L302.94 232.91 L303.22 233.02 L303.50 233.13 L303.79 233.23 L304.07 233.34 L304.35 233.45 L304.63 233.56 L304.92 233.66 L305.20 233.77 L305.48 233.88 L305.77 233.99 L306.05 234.10 L306.33 234.21 L306.62 234.32 L306.90 234.43 L307.18 234.54 L307.47 234.65 L307.75 234.77 L308.03 234.88 L308.32 234.99 L308.60 235.11 L308.88 235.22 L309.16 235.33 L309.45 235.45 L309.73 235.56 L310.01 235.68 L310.30 235.80 L310.58 235.91 L310.86 236.03 L311.15 236.15 L311.43 236.27 L311.71 236.39 L312.00 236.51 L312.28 236.63 L312.56 236.75 L312.85 236.87 L313.13 236.99 L313.41 237.11 L313.69 237.24 L313.98 237.36 L314.26 237.48 L314.54 237.61 L314.83 237.73 L315.11 237.86 L315.39 237.99 L315.68 238.12 L315.96 238.24 L316.24 238.37 L316.53 238.50 L316.81 238.63 L317.09 238.76 L317.38 238.89 L317.66 239.03 L317.94 239.16 L318.22 239.29 L318.51 239.43 L318.79 239.56 L319.07 239.70 L319.36 239.84 L319.64 239.97 L319.92 240.11 L320.21 240.25 L320.49 240.39 L320.77 240.53 L321.06 240.68 L321.34 240.82 L321.62 240.96 L321.91 241.11 L322.19 241.25 L322.47 241.40 L322.75 241.55 L323.04 241.70 L323.32 241.85 L323.60 242.00 L323.89 242.15 L324.17 242.30 L324.45 242.46 L324.74 242.61 L325.02 242.77 L325.30 242.93 L325.59 243.09 L325.87 243.25 L326.15 243.41 L326.44 243.57 L326.72 243.73 L327.00 243.90 L327.28 244.06 L327.57 244.23 L327.85 244.40 L328.13 244.57 L328.42 244.74 L328.70 244.92 L328.98 245.09 L329.27 245.27 L329.55 245.44 L329.83 245.62 L330.12 245.81 L330.40 245.99 L330.68 246.17 L330.97 246.36 L331.25 246.55 L331.53 246.74 L331.81 246.93 L332.10 247.12 L332.38 247.32 L332.66 247.52 L332.95 247.72 L333.23 247.92 L333.51 248.12 L333.80 248.33 L334.08 248.54 L334.36 248.75 L334.65 248.96 L334.93 249.18 L335.21 249.39 L335.50 249.62 L335.78 249.84 L336.06 250.07 L336.35 250.29 L336.63 250.53 L336.91 250.76 L337.19 251.00 L337.48 251.24 L337.76 251.48 L338.04 251.73 L338.33 251.98 L338.61 252.24 L338.89 252.50 L339.18 252.76 L339.46 253.02 L339.74 253.29 L340.03 253.57 L340.31 253.85 L340.59 254.13 L340.88 254.42 L341.16 254.71 L341.44 255.01 L341.72 255.31 L342.01 255.62 L342.29 255.93 L342.57 256.25 L342.86 256.58 L343.14 256.91 L343.42 257.25 L343.71 257.60 L343.99 257.95 L344.27 258.31 L344.56 258.68 L344.84 259.05 L345.12 259.44 L345.41 259.83 L345.69 260.24 L345.97 260.65 L346.25 261.07 L346.54 261.51 L346.82 261.96 L347.10 262.42 L347.39 262.89 L347.67 263.38 L347.95 263.88 L348.24 264.40 L348.52 264.93 L348.80 265.49 L349.09 266.06 L349.37 266.66 L349.65 267.28 L349.94 267.92 L350.22 268.59 L350.50 269.29 L350.78 270.02 L351.07 270.79 L351.35 271.59 L351.63 272.44 L351.92 273.34 L352.20 274.29 L352.48 275.31 L352.77 276.39 L353.03 277.48 L353.23 278.36 L353.33 278.82 L353.42 279.24 L353.60 280.12 L353.77 281.00 L353.90 281.71 L354.08 282.76 L354.18 283.38 L354.36 284.51 L354.47 285.26 L354.60 286.26 L354.72 287.14 L354.82 288.01 L354.92 288.89 L355.02 289.76 L355.11 290.64 L355.19 291.51 L355.27 292.38 L355.31 292.88 L355.35 293.25 L355.42 294.13 L355.48 295.00 L355.55 295.87 L355.60 296.59 L355.66 297.61 L355.72 298.49 L355.77 299.36 L355.82 300.23 L355.86 301.10 L355.88 301.52 L355.90 301.97 L355.94 302.84 L355.98 303.71 L356.02 304.58 L356.05 305.45 L356.08 306.32 L356.11 307.19 L356.14 308.06 L356.16 308.89 L356.19 309.80 L356.21 310.67 L356.24 311.54 L356.26 312.41 L356.28 313.28 L356.30 314.14 L356.31 315.01 L356.33 315.88 L356.35 316.75 L356.36 317.62 L356.38 318.49 L356.39 319.36 L356.40 320.23 L356.41 321.09 L356.42 321.96 L356.44 322.83 L356.45 323.70 L356.45 324.57 L356.46 325.44 L356.47 326.31 L356.48 327.17 L356.49 328.04 L356.49 328.91 L356.50 329.78 L356.51 330.65 L356.51 331.52 L356.52 332.38 L356.52 333.25 L356.53 334.12 L356.53 334.99 L356.54 335.86 L356.54 336.73 L356.55 337.59 L356.55 338.46 L356.55 339.33 L356.56 340.20 L356.59 340.47 L356.61 340.47" stroke="#ff0000" stroke-dasharray="8.6 8.5" stroke-dashoffset="0.00"/>
<path d="M356.61 340.47 L356.67 340.20 L356.67 339.34 L356.68 338.47 L356.68 337.60 L356.68 336.73 L356.69 335.87 L356.69 335.00 L356.70 334.13 L356.70 333.26 L356.71 332.40 L356.71 331.53 L356.72 330.66 L356.72 329.79 L356.73 329.08 L356.74 328.06 L356.75 327.19 L356.75 326.32 L356.76 325.46 L356.77 324.59 L356.78 323.72 L356.79 322.85 L356.80 321.99 L356.81 321.12 L356.82 320.25 L356.84 319.39 L356.85 318.52 L356.86 317.65 L356.88 316.78 L356.90 315.92 L356.91 315.05 L356.93 314.18 L356.95 313.32 L356.97 312.45 L356.99 311.58 L357.01 310.72 L357.04 309.85 L357.06 308.99 L357.09 308.12 L357.12 307.25 L357.15 306.39 L357.18 305.52 L357.21 304.66 L357.25 303.79 L357.28 302.92 L357.32 302.06 L357.37 301.19 L357.41 300.33 L357.46 299.46 L357.51 298.60 L357.56 297.73 L357.58 297.45 L357.62 296.87 L357.68 296.01 L357.74 295.14 L357.81 294.28 L357.86 293.61 L357.95 292.55 L358.03 291.69 L358.12 290.83 L358.21 289.96 L358.30 289.10 L358.40 288.24 L358.51 287.38 L358.62 286.52 L358.71 285.87 L358.87 284.80 L359.00 283.99 L359.15 283.08 L359.28 282.32 L359.46 281.36 L359.56 280.82 L359.62 280.51 L359.80 279.65 L359.99 278.79 L360.13 278.21 L360.19 277.94 L360.41 277.07 L360.69 276.00 L360.98 275.01 L361.26 274.09 L361.54 273.22 L361.83 272.39 L362.11 271.62 L362.39 270.88 L362.68 270.18 L362.96 269.51 L363.24 268.87 L363.53 268.26 L363.81 267.67 L364.09 267.11 L364.37 266.57 L364.66 266.05 L364.94 265.55 L365.22 265.06 L365.51 264.59 L365.79 264.14 L366.07 263.70 L366.36 263.27 L366.64 262.86 L366.92 262.46 L367.21 262.07 L367.49 261.69 L367.77 261.32 L368.06 260.96 L368.34 260.61 L368.62 260.27 L368.91 259.93 L369.19 259.61 L369.47 259.29 L369.75 258.98 L370.04 258.68 L370.32 258.38 L370.60 258.09 L370.89 257.80 L371.17 257.52 L371.45 257.25 L371.74 256.98 L372.02 256.72 L372.30 256.46 L372.59 256.21 L372.87 255.96 L373.15 255.72 L373.44 255.48 L373.72 255.25 L374.00 255.02 L374.28 254.79 L374.57 254.57 L374.85 254.35 L375.13 254.13 L375.42 253.92 L375.70 253.71 L375.98 253.51 L376.27 253.31 L376.55 253.11 L376.83 252.91 L377.12 252.72 L377.40 252.53 L377.68 252.34 L377.97 252.16 L378.25 251.98 L378.53 251.80 L378.81 251.62 L379.10 251.44 L379.38 251.27 L379.66 251.10 L379.95 250.94 L380.23 250.77 L380.51 250.61 L380.80 250.45 L381.08 250.29 L381.36 250.13 L381.65 249.97 L381.93 249.82 L382.21 249.67 L382.50 249.52 L382.78 249.37 L383.06 249.22 L383.34 249.08 L383.63 248.94 L383.91 248.80 L384.19 248.66 L384.48 248.52 L384.76 248.38 L385.04 248.25 L385.33 248.11 L385.61 247.98 L385.89 247.85 L386.18 247.72 L386.46 247.59 L386.74 247.47 L387.03 247.34 L387.31 247.22 L387.59 247.10 L387.87 246.97 L388.16 246.85 L388.44 246.73 L388.72 246.62 L389.01 246.50 L389.29 246.38 L389.57 246.27 L389.86 246.16 L390.14 246.04 L390.42 245.93 L390.71 245.82 L390.99 245.71 L391.27 245.61 L391.56 245.50 L391.84 245.39 L392.12 245.29 L392.40 245.18 L392.69 245.08 L392.97 244.98 L393.25 244.87 L393.54 244.77 L393.82 244.67 L394.10 244.57 L394.39 244.48 L394.67 244.38 L394.95 244.28 L395.24 244.19 L395.52 244.09 L395.80 244.00 L396.09 243.90 L396.37 243.81 L396.65 243.72 L396.93 243.63 L397.22 243.54 L397.50 243.45 L397.78 243.36 L398.07 243.27 L398.35 243.18 L398.63 243.10 L398.92 243.01 L399.20 242.92 L399.48 242.84 L399.77 242.76 L400.05 242.67 L400.33 242.59 L400.62 242.51 L400.90 242.42 L401.18 242.34 L401.46 242.26 L401.75 242.18 L402.03 242.10 L402.31 242.02 L402.60 241.95 L402.88 241.87 L403.16 241.79 L403.45 241.71 L403.73 241.64 L404.01 241.56 L404.30 241.49 L404.58 241.41 L404.86 241.34 L405.15 241.26 L405.43 241.19 L405.71 241.12 L406.00 241.05 L406.28 240.97 L406.56 240.90 L406.84 240.83 L407.13 240.76 L407.41 240.69 L407.69 240.62 L407.98 240.55 L408.26 240.49 L408.54 240.42 L408.83 240.35 L409.11 240.28 L409.39 240.22 L409.68 240.15 L409.96 240.08 L410.24 240.02 L410.53 239.95 L410.81 239.89 L411.09 239.83 L411.37 239.76 L411.66 239.70 L411.94 239.64 L412.22 239.57 L412.51 239.51 L412.79 239.45 L413.07 239.39 L413.36 239.33 L413.64 239.27 L413.92 239.20 L414.21 239.14 L414.49 239.09 L414.77 239.03 L415.06 238.97 L415.34 238.91 L415.62 238.85 L415.90 238.79 L416.19 238.73 L416.47 238.68 L416.75 238.62 L417.04 238.56 L417.32 238.51 L417.60 238.45 L417.89 238.40 L418.17 238.34 L418.45 238.28 L418.74 238.23 L419.02 238.18 L419.30 238.12 L419.59 238.07 L419.87 238.01 L420.15 237.96 L420.43 237.91 L420.72 237.85 L421.00 237.80 L421.28 237.75 L421.57 237.70 L421.85 237.65 L422.13 237.60 L422.42 237.54 L422.70 237.49 L422.98 237.44 L423.27 237.39 L423.55 237.34 L423.83 237.29 L424.12 237.24 L424.40 237.20 L424.68 237.15 L424.96 237.10 L425.25 237.05 L425.53 237.00 L425.81 236.95 L426.10 236.91 L426.38 236.86 L426.66 236.81 L426.95 236.76 L427.23 236.72 L427.51 236.67 L427.80 236.62 L428.08 236.58 L428.36 236.53 L428.65 236.49 L428.93 236.44 L429.21 236.40 L429.49 236.35 L429.78 236.31 L430.06 236.26 L430.34 236.22 L430.63 236.18 L430.91 236.13 L431.19 236.09 L431.48 236.05 L431.76 236.00 L432.04 235.96 L432.33 235.92 L432.61 235.87 L432.89 235.83 L433.18 235.79 L433.46 235.75 L433.74 235.71 L434.02 235.67 L434.31 235.62 L434.59 235.58 L434.87 235.54 L435.16 235.50 L435.44 235.46 L435.72 235.42 L436.01 235.38 L436.29 235.34 L436.57 235.30 L436.86 235.26 L437.14 235.22 L437.42 235.18 L437.71 235.14 L437.99 235.11 L438.27 235.07 L438.56 235.03 L438.84 234.99 L439.12 234.95 L439.40 234.91 L439.69 234.88 L439.97 234.84 L440.25 234.80 L440.54 234.77 L440.82 234.73 L441.10 234.69 L441.39 234.65 L441.67 234.62 L441.95 234.58 L442.24 234.55 L442.52 234.51 L442.80 234.47 L443.09 234.44 L443.37 234.40 L443.65 234.37 L443.93 234.33 L444.22 234.30 L444.50 234.26 L444.78 234.23 L445.07 234.19 L445.35 234.16 L445.63 234.12 L445.92 234.09 L446.20 234.06 L446.48 234.02 L446.77 233.99 L447.05 233.96 L447.33 233.92 L447.62 233.89 L447.90 233.86 L448.18 233.82 L448.46 233.79 L448.75 233.76 L449.03 233.73 L449.31 233.69 L449.60 233.66 L449.88 233.63 L450.16 233.60 L450.45 233.57 L450.73 233.53 L451.01 233.50 L451.30 233.47 L451.58 233.44 L451.86 233.41 L452.15 233.38 L452.43 233.35 L452.71 233.32 L452.99 233.29 L453.28 233.26 L453.56 233.23 L453.84 233.20 L454.13 233.17 L454.41 233.14 L454.69 233.11 L454.98 233.08 L455.26 233.05 L455.54 233.02 L455.83 232.99 L456.11 232.96 L456.39 232.93 L456.68 232.90 L456.96 232.87 L457.24 232.85 L457.52 232.82 L457.81 232.79 L458.09 232.76 L458.37 232.73 L458.66 232.71 L458.94 232.68 L459.22 232.65 L459.51 232.62 L459.79 232.60 L460.07 232.57 L460.36 232.54 L460.64 232.51 L460.92 232.49 L461.21 232.46 L461.49 232.43 L461.77 232.41 L462.05 232.38 L462.34 232.35 L462.62 232.33 L462.90 232.30 L463.19 232.28 L463.47 232.25 L463.75 232.22 L464.04 232.20 L464.32 232.17 L464.60 232.15 L464.89 232.12 L465.17 232.10 L465.45 232.07 L465.74 232.05 L466.02 232.02 L466.30 232.00 L466.58 231.97 L466.87 231.95 L467.15 231.92 L467.43 231.90 L467.72 231.88 L468.00 231.85 L468.28 231.83 L468.57 231.80 L468.85 231.78 L469.13 231.76 L469.42 231.73 L469.70 231.71 L469.98 231.69 L470.27 231.66 L470.55 231.64 L470.83 231.62 L471.12 231.59 L471.40 231.57 L471.68 231.55 L471.96 231.53 L472.25 231.50 L472.53 231.48 L472.81 231.46 L473.10 231.44 L473.38 231.41 L473.66 231.39 L473.95 231.37 L474.23 231.35 L474.51 231.33 L474.80 231.30 L475.08 231.28 L475.36 231.26 L475.65 231.24 L475.93 231.22 L476.21 231.20 L476.49 231.18 L476.78 231.16 L477.06 231.13 L477.34 231.11 L477.63 231.09 L477.91 231.07 L478.19 231.05 L478.48 231.03 L478.76 231.01 L479.04 230.99 L479.33 230.97 L479.61 230.95 L479.89 230.93 L480.18 230.91 L480.46 230.89 L480.74 230.87 L481.02 230.85 L481.31 230.83 L481.59 230.81 L481.87 230.79 L482.16 230.78 L482.44 230.76 L482.72 230.74 L483.01 230.72 L483.29 230.70 L483.57 230.68 L483.86 230.66 L484.14 230.64 L484.42 230.63 L484.71 230.61 L484.99 230.59 L485.27 230.57 L485.55 230.55 L485.84 230.53 L486.12 230.52 L486.40 230.50 L486.69 230.48 L486.97 230.46 L487.25 230.45 L487.54 230.43 L487.82 230.41 L488.10 230.39 L488.39 230.38 L488.67 230.36 L488.95 230.34 L489.24 230.32 L489.52 230.31 L490.08 230.27 L490.65 230.24 L491.22 230.21 L491.78 230.18 L492.35 230.14 L492.92 230.11 L493.48 230.08 L494.05 230.05 L494.61 230.02 L495.18 229.99 L495.75 229.96 L496.31 229.93 L496.88 229.90 L497.45 229.87 L498.01 229.84 L498.58 229.81 L499.14 229.78 L499.71 229.76 L500.28 229.73 L500.84 229.70 L501.41 229.67 L501.98 229.65 L502.54 229.62 L503.11 229.59 L503.67 229.57 L504.24 229.54 L504.81 229.52 L505.37 229.49 L505.94 229.47 L506.51 229.44 L507.07 229.42 L507.64 229.40 L508.21 229.37 L508.77 229.35 L509.34 229.33 L509.90 229.30 L510.47 229.28 L511.04 229.26 L511.60 229.24 L512.17 229.22 L512.74 229.20 L513.30 229.18 L513.87 229.16 L514.43 229.14 L515.00 229.12 L515.57 229.10 L516.13 229.08 L516.70 229.06 L517.27 229.04 L517.83 229.02 L518.40 229.00 L518.96 228.99 L519.53 228.97 L520.10 228.95 L520.66 228.93 L521.23 228.92 L521.80 228.90 L522.36 228.88 L522.93 228.87 L523.49 228.85 L524.06 228.84 L524.63 228.82 L525.19 228.81 L525.76 228.79 L526.33 228.78 L526.89 228.77 L527.46 228.75 L528.02 228.74 L528.59 228.73 L529.16 228.71 L529.72 228.70 L530.29 228.69 L530.86 228.68 L531.42 228.67 L531.99 228.65 L532.55 228.64 L533.12 228.63 L533.69 228.62 L534.25 228.61 L534.82 228.60 L535.39 228.59 L535.95 228.58 L536.52 228.57 L537.08 228.57 L537.65 228.56 L538.22 228.55 L538.50 228.54" stroke="#ff0000" stroke-dasharray="8.6 8.5" stroke-dashoffset="0.01"/>
<path d="M85.50 361.23 L85.80 340.68 L86.10 322.96 L86.41 312.48 L86.71 305.20 L87.01 299.73 L87.31 295.41 L87.62 291.88 L87.92 288.93 L88.22 286.41 L88.52 284.23 L88.82 282.32 L89.13 280.64 L89.43 279.14 L89.73 277.79 L90.03 276.57 L90.34 275.47 L90.64 274.47 L90.94 273.55 L91.24 272.71 L91.54 271.94 L91.85 271.23 L92.15 270.57 L92.45 269.97 L92.75 269.41 L93.06 268.89 L93.36 268.41 L93.66 267.96 L93.96 267.54 L94.26 267.16 L94.57 266.80 L94.87 266.47 L95.17 266.16 L95.47 265.88 L95.77 265.61 L96.08 265.37 L96.38 265.15 L96.68 264.94 L96.98 264.75 L97.29 264.58 L97.59 264.42 L97.89 264.28 L98.19 264.15 L98.49 264.03 L98.80 263.93 L99.10 263.84 L99.40 263.77 L99.70 263.70 L100.01 263.65 L100.31 263.61 L100.61 263.58 L100.91 263.56 L101.21 263.55 L101.52 263.55 L101.82 263.56 L102.12 263.58 L102.42 263.61 L102.73 263.65 L103.03 263.70 L103.33 263.76 L103.63 263.83 L103.93 263.90 L104.24 263.99 L104.54 264.09 L104.84 264.19 L105.14 264.31 L105.45 264.43 L105.75 264.57 L106.05 264.71 L106.35 264.87 L106.65 265.03 L106.96 265.21 L107.26 265.39 L107.56 265.59 L107.86 265.79 L108.17 266.01 L108.47 266.24 L108.77 266.48 L109.07 266.73 L109.37 266.99 L109.68 267.27 L109.98 267.56 L110.28 267.86 L110.58 268.18 L110.88 268.52 L111.19 268.87 L111.49 269.23 L111.79 269.62 L112.09 270.02 L112.40 270.44 L112.70 270.89 L113.00 271.36 L113.30 271.85 L113.60 272.36 L113.91 272.91 L114.21 273.48 L114.51 274.09 L114.81 274.73 L115.12 275.41 L115.42 276.13 L115.72 276.90 L116.02 277.73 L116.32 278.61 L116.63 279.57 L116.93 280.60 L117.23 281.72 L117.49 282.75 L117.68 283.57 L117.84 284.29 L118.03 285.22 L118.14 285.80 L118.34 286.88 L118.44 287.48 L118.61 288.55 L118.74 289.38 L118.86 290.22 L118.97 291.06 L119.04 291.64 L119.18 292.75 L119.27 293.60 L119.35 294.29 L119.45 295.29 L119.53 296.14 L119.60 296.99 L119.65 297.55 L119.67 297.84 L119.74 298.70 L119.80 299.55 L119.86 300.40 L119.92 301.26 L119.95 301.76 L119.97 302.12 L120.02 302.97 L120.07 303.83 L120.11 304.69 L120.16 305.55 L120.20 306.40 L120.23 307.26 L120.25 307.70 L120.27 308.12 L120.30 308.98 L120.34 309.85 L120.37 310.71 L120.39 311.57 L120.42 312.43 L120.45 313.29 L120.47 314.16 L120.49 315.02 L120.51 315.88 L120.53 316.75 L120.55 317.61 L120.57 318.47 L120.59 319.34 L120.60 320.20 L120.62 321.07 L120.63 321.93 L120.64 322.80 L120.66 323.66 L120.67 324.53 L120.68 325.39 L120.69 326.26 L120.70 327.12 L120.71 327.99 L120.72 328.86 L120.73 329.72 L120.73 330.59 L120.74 331.45 L120.75 332.32 L120.76 333.19 L120.76 334.05 L120.77 334.92 L120.77 335.79 L120.78 336.65 L120.87 336.66" stroke="#ff00ff" stroke-dasharray="8.6 2.1 4.4 2.1" stroke-dashoffset="1.00"/>
<path d="M120.87 336.66 L120.96 335.75 L120.97 334.88 L120.97 334.01 L120.98 333.14 L120.99 332.27 L120.99 331.40 L121.00 330.53 L121.01 329.66 L121.02 328.79 L121.03 327.92 L121.04 327.05 L121.05 326.18 L121.06 325.31 L121.07 324.44 L121.08 323.57 L121.09 322.70 L121.11 321.83 L121.12 320.96 L121.13 320.09 L121.15 319.22 L121.16 318.70 L121.17 318.34 L121.18 317.47 L121.20 316.60 L121.22 315.73 L121.24 314.86 L121.27 313.98 L121.29 313.11 L121.32 312.24 L121.34 311.36 L121.37 310.49 L121.40 309.62 L121.43 308.74 L121.46 307.96 L121.50 306.99 L121.54 306.12 L121.58 305.24 L121.62 304.36 L121.67 303.49 L121.71 302.61 L121.76 301.73 L121.82 300.85 L121.87 299.97 L121.93 299.09 L122.00 298.21 L122.06 297.33 L122.13 296.45 L122.21 295.56 L122.29 294.68 L122.37 293.85 L122.46 292.91 L122.56 292.02 L122.66 291.13 L122.77 290.24 L122.88 289.35 L122.97 288.64 L123.12 287.57 L123.26 286.68 L123.40 285.78 L123.55 284.89 L123.71 283.99 L123.88 283.09 L124.06 282.19 L124.18 281.59 L124.25 281.28 L124.45 280.38 L124.79 278.97 L125.09 277.80 L125.39 276.71 L125.69 275.68 L125.99 274.72 L126.30 273.80 L126.60 272.94 L126.90 272.12 L127.20 271.34 L127.51 270.59 L127.81 269.87 L128.11 269.18 L128.41 268.52 L128.71 267.89 L129.02 267.27 L129.32 266.68 L129.62 266.11 L129.92 265.56 L130.23 265.02 L130.53 264.50 L130.83 263.99 L131.13 263.50 L131.43 263.03 L131.74 262.56 L132.04 262.11 L132.34 261.67 L132.64 261.24 L132.95 260.82 L133.25 260.41 L133.55 260.01 L133.85 259.62 L134.15 259.24 L134.46 258.86 L134.76 258.50 L135.06 258.14 L135.36 257.79 L135.67 257.44 L135.97 257.10 L136.27 256.77 L136.57 256.45 L136.87 256.13 L137.18 255.81 L137.48 255.51 L137.78 255.20 L138.08 254.90 L138.39 254.61 L138.69 254.32 L138.99 254.04 L139.29 253.76 L139.59 253.49 L139.90 253.22 L140.20 252.95 L140.50 252.69 L140.80 252.43 L141.11 252.18 L141.41 251.93 L141.71 251.68 L142.01 251.44 L142.31 251.20 L142.62 250.96 L142.92 250.73 L143.22 250.49 L143.52 250.27 L143.82 250.04 L144.13 249.82 L144.43 249.60 L144.73 249.38 L145.03 249.17 L145.34 248.96 L145.64 248.75 L145.94 248.55 L146.24 248.34 L146.54 248.14 L146.85 247.94 L147.15 247.75 L147.45 247.55 L147.75 247.36 L148.06 247.17 L148.36 246.98 L148.66 246.80 L148.96 246.61 L149.26 246.43 L149.57 246.25 L149.87 246.07 L150.17 245.89 L150.47 245.72 L150.78 245.55 L151.08 245.38 L151.38 245.21 L151.68 245.04 L151.98 244.87 L152.29 244.71 L152.59 244.55 L152.89 244.39 L153.19 244.23 L153.50 244.07 L153.80 243.91 L154.10 243.76 L154.40 243.60 L154.70 243.45 L155.01 243.30 L155.31 243.15 L155.61 243.00 L155.91 242.85 L156.22 242.71 L156.52 242.56 L156.82 242.42 L157.12 242.28 L157.42 242.14 L157.73 242.00 L158.03 241.86 L158.33 241.72 L158.63 241.58 L158.93 241.45 L159.24 241.32 L159.54 241.18 L159.84 241.05 L160.14 240.92 L160.45 240.79 L160.75 240.66 L161.05 240.53 L161.35 240.41 L161.65 240.28 L161.96 240.16 L162.26 240.03 L162.56 239.91 L162.86 239.79 L163.17 239.67 L163.47 239.55 L163.77 239.43 L164.07 239.31 L164.37 239.19 L164.68 239.07 L164.98 238.96 L165.28 238.84 L165.58 238.73 L165.89 238.61 L166.19 238.50 L166.49 238.39 L166.79 238.28 L167.09 238.17 L167.40 238.06 L167.70 237.95 L168.00 237.84 L168.30 237.73 L168.61 237.63 L168.91 237.52 L169.21 237.42 L169.51 237.31 L169.81 237.21 L170.12 237.10 L170.42 237.00 L170.72 236.90 L171.02 236.80 L171.33 236.70 L171.63 236.60 L171.93 236.50 L172.23 236.40 L172.53 236.30 L172.84 236.20 L173.14 236.11 L173.44 236.01 L173.74 235.92 L174.05 235.82 L174.35 235.73 L174.65 235.63 L174.95 235.54 L175.25 235.45 L175.56 235.35 L175.86 235.26 L176.16 235.17 L176.46 235.08 L176.76 234.99 L177.07 234.90 L177.37 234.81 L177.67 234.72 L177.97 234.63 L178.28 234.55 L178.58 234.46 L178.88 234.37 L179.18 234.29 L179.48 234.20 L179.79 234.12 L180.09 234.03 L180.39 233.95 L180.69 233.86 L181.00 233.78 L181.30 233.70 L181.60 233.61 L181.90 233.53 L182.20 233.45 L182.51 233.37 L182.81 233.29 L183.11 233.21 L183.41 233.13 L183.72 233.05 L184.02 232.97 L184.32 232.89 L184.62 232.81 L184.92 232.74 L185.23 232.66 L185.53 232.58 L185.83 232.51 L186.13 232.43 L186.44 232.35 L186.74 232.28 L187.04 232.20 L187.34 232.13 L187.64 232.05 L187.95 231.98 L188.25 231.91 L188.55 231.83 L188.85 231.76 L189.16 231.69 L189.46 231.62 L189.76 231.55 L190.06 231.47 L190.36 231.40 L190.67 231.33 L190.97 231.26 L191.27 231.19 L191.57 231.12 L191.87 231.05 L192.18 230.98 L192.48 230.91 L192.78 230.85 L193.08 230.78 L193.39 230.71 L193.69 230.64 L193.99 230.58 L194.29 230.51 L194.59 230.44 L194.90 230.38 L195.20 230.31 L195.50 230.24 L195.80 230.18 L196.11 230.11 L196.41 230.05 L196.71 229.99 L197.01 229.92 L197.31 229.86 L197.62 229.79 L197.92 229.73 L198.22 229.67 L198.52 229.60 L198.83 229.54 L199.13 229.48 L199.43 229.42 L199.73 229.36 L200.03 229.29 L200.34 229.23 L200.64 229.17 L200.94 229.11 L201.24 229.05 L201.55 228.99 L201.85 228.93 L202.15 228.87 L202.45 228.81 L202.75 228.75 L203.06 228.69 L203.36 228.64 L203.66 228.58 L203.96 228.52 L204.27 228.46 L204.57 228.40 L204.87 228.35 L205.17 228.29 L205.47 228.23 L205.78 228.18 L206.08 228.12 L206.38 228.06 L206.68 228.01 L206.98 227.95 L207.29 227.90 L207.59 227.84 L207.89 227.78 L208.19 227.73 L208.50 227.68 L208.80 227.62 L209.10 227.57 L209.40 227.51 L209.70 227.46 L210.01 227.40 L210.31 227.35 L210.61 227.30 L210.91 227.24 L211.22 227.19 L211.52 227.14 L211.82 227.09 L212.12 227.03 L212.42 226.98 L212.73 226.93 L213.03 226.88 L213.33 226.83 L213.63 226.78 L213.94 226.73 L214.24 226.67 L214.54 226.62 L214.84 226.57 L215.14 226.52 L215.45 226.47 L215.75 226.42 L216.05 226.37 L216.35 226.32 L216.66 226.27 L216.96 226.22 L217.26 226.18 L217.56 226.13 L217.86 226.08 L218.17 226.03 L218.47 225.98 L218.77 225.93 L219.07 225.88 L219.38 225.84 L219.68 225.79 L219.98 225.74 L220.28 225.69 L220.58 225.65 L220.89 225.60 L221.19 225.55 L221.49 225.51 L221.79 225.46 L222.10 225.41 L222.40 225.37 L222.70 225.32 L223.00 225.28 L223.30 225.23 L223.61 225.18 L223.91 225.14 L224.21 225.09 L224.51 225.05 L224.81 225.00 L225.12 224.96 L225.42 224.91 L225.72 224.87 L226.02 224.83 L226.33 224.78 L226.63 224.74 L226.93 224.69 L227.23 224.65 L227.53 224.61 L227.84 224.56 L228.14 224.52 L228.44 224.48 L228.74 224.43 L229.05 224.39 L229.35 224.35 L229.65 224.31 L229.95 224.26 L230.25 224.22 L230.56 224.18 L230.86 224.14 L231.16 224.09 L231.46 224.05 L231.77 224.01 L232.07 223.97 L232.37 223.93 L232.67 223.89 L232.97 223.85 L233.28 223.80 L233.58 223.76 L233.88 223.72 L234.18 223.68 L234.49 223.64 L234.79 223.60 L235.09 223.56 L235.39 223.52 L235.69 223.48 L236.00 223.44 L236.30 223.40 L236.60 223.36 L236.90 223.32 L237.21 223.28 L237.51 223.24 L237.81 223.20 L238.11 223.17 L238.41 223.13 L238.72 223.09 L239.02 223.05 L239.32 223.01 L239.62 222.97 L239.92 222.93 L240.23 222.90 L240.53 222.86 L240.83 222.82 L241.13 222.78 L241.44 222.74 L241.74 222.71 L242.04 222.67 L242.34 222.63 L242.64 222.59 L242.95 222.56 L243.25 222.52 L243.55 222.48 L243.85 222.45 L244.16 222.41 L244.46 222.37 L244.76 222.34 L245.06 222.30 L245.36 222.26 L245.67 222.23 L245.97 222.19 L246.27 222.15 L246.57 222.12 L246.88 222.08 L247.18 222.05 L247.48 222.01 L247.78 221.98 L248.08 221.94 L248.39 221.91 L248.69 221.87 L248.99 221.84 L249.29 221.80 L249.60 221.77 L249.90 221.73 L250.20 221.70 L250.50 221.66 L250.80 221.63 L251.11 221.59 L251.41 221.56 L251.71 221.52 L252.01 221.49 L252.32 221.46 L252.62 221.42 L252.92 221.39 L253.22 221.35 L253.52 221.32 L253.83 221.29 L254.13 221.25 L254.43 221.22 L254.73 221.19 L255.04 221.15 L255.34 221.12 L255.64 221.09 L255.94 221.05 L256.24 221.02 L256.55 220.99 L256.85 220.96 L257.15 220.92 L257.45 220.89 L257.75 220.86 L258.06 220.83 L258.36 220.79 L258.66 220.76 L258.96 220.73 L259.27 220.70 L259.57 220.67 L259.87 220.63 L260.17 220.60 L260.47 220.57 L260.78 220.54 L261.08 220.51 L261.38 220.48 L261.68 220.44 L261.99 220.41 L262.29 220.38 L262.59 220.35 L262.89 220.32 L263.19 220.29 L263.50 220.26 L263.80 220.23 L264.10 220.20 L264.40 220.17 L264.71 220.14 L265.01 220.11 L265.31 220.08 L265.61 220.04 L265.91 220.01 L266.22 219.98 L266.52 219.95 L266.82 219.92 L267.12 219.89 L267.43 219.86 L267.73 219.83 L268.03 219.81 L268.33 219.78 L268.63 219.75 L268.94 219.72 L269.24 219.69 L269.54 219.66 L269.84 219.63 L270.15 219.60 L270.45 219.57 L270.75 219.54 L271.05 219.51 L271.35 219.48 L271.66 219.45 L271.96 219.43 L272.26 219.40 L272.56 219.37 L272.86 219.34 L273.17 219.31 L273.47 219.28 L273.77 219.25 L274.07 219.23 L274.38 219.20 L274.68 219.17 L274.98 219.14 L275.28 219.11 L275.58 219.09 L275.89 219.06 L276.19 219.03 L276.49 219.00 L276.79 218.97 L277.10 218.95 L277.40 218.92 L277.70 218.89 L278.00 218.86 L278.30 218.84 L278.61 218.81 L278.91 218.78 L279.21 218.76 L279.51 218.73 L279.82 218.70 L280.12 218.67 L280.42 218.65 L280.72 218.62 L281.02 218.59 L281.33 218.57 L281.63 218.54 L281.93 218.51 L282.23 218.49 L282.54 218.46 L282.84 218.43 L283.14 218.41 L283.44 218.38 L283.74 218.36 L284.05 218.33 L284.35 218.30 L284.65 218.28 L284.95 218.25 L285.26 218.23 L285.56 218.20 L285.86 218.17 L286.16 218.15 L286.46 218.12 L286.77 218.10 L287.07 218.07 L287.37 218.05 L287.67 218.02 L287.97 217.99 L288.28 217.97 L288.58 217.94 L288.88 217.92 L289.18 217.89 L289.49 217.87 L289.79 217.84 L290.09 217.82 L290.39 217.79 L290.69 217.77 L291.00 217.74 L291.30 217.72 L291.60 217.69 L291.90 217.67 L292.21 217.64 L292.51 217.62 L292.81 217.60 L293.11 217.57 L293.41 217.55 L293.72 217.52 L294.02 217.50 L294.32 217.47 L294.62 217.45 L294.93 217.43 L295.23 217.40 L295.53 217.38 L295.83 217.35 L296.13 217.33 L296.44 217.31 L296.74 217.28 L297.04 217.26 L297.34 217.23 L297.65 217.21 L297.95 217.19 L298.25 217.16 L298.55 217.14 L298.85 217.12 L299.16 217.09 L299.46 217.07 L299.76 217.05 L300.06 217.02 L300.37 217.00 L300.67 216.98 L300.97 216.95 L301.27 216.93 L301.57 216.91 L301.88 216.88 L302.18 216.86 L302.48 216.84 L302.78 216.81 L303.09 216.79 L303.39 216.77 L303.69 216.75 L303.99 216.72 L304.29 216.70 L304.60 216.68 L304.90 216.66 L305.20 216.63 L305.50 216.61 L305.80 216.59 L306.11 216.57 L306.41 216.54 L306.71 216.52 L307.01 216.50 L307.32 216.48 L307.62 216.46 L307.92 216.43 L308.22 216.41 L308.52 216.39 L308.83 216.37 L309.13 216.34 L309.43 216.32 L309.73 216.30 L310.04 216.28 L310.34 216.26 L310.64 216.24 L310.94 216.21 L311.24 216.19 L311.55 216.17 L311.85 216.15 L312.15 216.13 L312.45 216.11 L312.76 216.09 L313.06 216.06 L313.36 216.04 L313.66 216.02 L313.96 216.00 L314.27 215.98 L314.57 215.96 L314.87 215.94 L315.17 215.92 L315.48 215.89 L315.78 215.87 L316.08 215.85 L316.38 215.83 L316.68 215.81 L316.99 215.79 L317.29 215.77 L317.59 215.75 L317.89 215.73 L318.20 215.71 L318.50 215.69 L318.80 215.67 L319.10 215.65 L319.40 215.62 L319.71 215.60 L320.01 215.58 L320.31 215.56 L320.61 215.54 L320.91 215.52 L321.22 215.50 L321.52 215.48 L321.82 215.46 L322.12 215.44 L322.43 215.42 L322.73 215.40 L323.03 215.38 L323.33 215.36 L323.63 215.34 L323.94 215.32 L324.24 215.30 L324.54 215.28 L324.84 215.26 L325.15 215.24 L325.45 215.22 L325.75 215.20 L326.05 215.18 L326.35 215.16 L326.66 215.14 L326.96 215.12 L327.26 215.11 L327.56 215.09 L327.87 215.07 L328.17 215.05 L328.47 215.03 L328.77 215.01 L329.07 214.99 L329.38 214.97 L329.68 214.95 L329.98 214.93 L330.28 214.91 L330.59 214.89 L330.89 214.87 L331.19 214.85 L331.49 214.84 L331.79 214.82 L332.10 214.80 L332.40 214.78 L332.70 214.76 L333.00 214.74 L333.31 214.72 L333.61 214.70 L333.91 214.68 L334.21 214.67 L334.51 214.65 L334.82 214.63 L335.12 214.61 L335.42 214.59 L335.72 214.57 L336.03 214.55 L336.33 214.54 L336.63 214.52 L336.93 214.50 L337.23 214.48 L337.54 214.46 L337.84 214.44 L338.14 214.43 L338.44 214.41 L338.74 214.39 L339.05 214.37 L339.35 214.35 L339.65 214.33 L339.95 214.32 L340.26 214.30 L340.56 214.28 L340.86 214.26 L341.16 214.24 L341.46 214.23 L341.77 214.21 L342.07 214.19 L342.37 214.17 L342.67 214.15 L342.98 214.14 L343.28 214.12 L343.58 214.10 L343.88 214.08 L344.18 214.07 L344.49 214.05 L344.79 214.03 L345.09 214.01 L345.39 214.00 L345.70 213.98 L346.00 213.96 L346.30 213.94 L346.60 213.93 L346.90 213.91 L347.21 213.89 L347.51 213.87 L347.81 213.86 L348.11 213.84 L348.42 213.82 L348.72 213.80 L349.02 213.79 L349.32 213.77 L349.62 213.75 L349.93 213.74 L350.23 213.72 L350.53 213.70 L350.83 213.68 L351.14 213.67 L351.44 213.65 L351.74 213.63 L352.04 213.62 L352.34 213.60 L352.65 213.58 L352.95 213.57 L353.25 213.55 L353.55 213.53 L353.85 213.52 L354.16 213.50 L354.46 213.48 L354.76 213.47 L355.06 213.45 L355.37 213.43 L355.67 213.42 L355.97 213.40 L356.27 213.38 L356.57 213.37 L356.88 213.35 L357.18 213.33 L357.48 213.32 L357.78 213.30 L358.09 213.28 L358.39 213.27 L358.69 213.25 L358.99 213.24 L359.29 213.22 L359.60 213.20 L359.90 213.19 L360.20 213.17 L360.50 213.15 L360.81 213.14 L361.11 213.12 L361.41 213.11 L361.71 213.09 L362.01 213.07 L362.32 213.06 L362.62 213.04 L362.92 213.03 L363.22 213.01 L363.53 212.99 L363.83 212.98 L364.13 212.96 L364.43 212.95 L364.73 212.93 L365.04 212.92 L365.34 212.90 L365.64 212.88 L365.94 212.87 L366.25 212.85 L366.55 212.84 L366.85 212.82 L367.15 212.81 L367.45 212.79 L367.76 212.77 L368.06 212.76 L368.36 212.74 L368.66 212.73 L368.96 212.71 L369.27 212.70 L369.57 212.68 L369.87 212.67 L370.17 212.65 L370.48 212.64 L370.78 212.62 L371.08 212.61 L371.38 212.59 L371.68 212.57 L371.99 212.56 L372.29 212.54 L372.59 212.53 L372.89 212.51 L373.20 212.50 L373.50 212.48 L373.80 212.47 L374.10 212.45 L374.40 212.44 L374.71 212.42 L375.01 212.41 L375.31 212.39 L375.61 212.38 L375.92 212.36 L376.22 212.35 L376.52 212.33 L376.82 212.32 L377.12 212.30 L377.43 212.29 L377.73 212.27 L378.03 212.26 L378.33 212.25 L378.64 212.23 L378.94 212.22 L379.24 212.20 L379.54 212.19 L379.84 212.17 L380.15 212.16 L380.45 212.14 L380.75 212.13 L381.05 212.11 L381.36 212.10 L381.66 212.08 L381.96 212.07 L382.26 212.06 L382.56 212.04 L382.87 212.03 L383.17 212.01 L383.47 212.00 L383.77 211.98 L384.08 211.97 L384.38 211.96 L384.68 211.94 L384.98 211.93 L385.28 211.91 L385.59 211.90 L385.89 211.88 L386.19 211.87 L386.49 211.86 L386.79 211.84 L387.10 211.83 L387.40 211.81 L387.70 211.80 L388.00 211.79 L388.31 211.77 L388.61 211.76 L388.91 211.74 L389.21 211.73 L389.51 211.72 L389.82 211.70 L390.12 211.69 L390.42 211.67 L390.72 211.66 L391.03 211.65 L391.33 211.63 L391.63 211.62 L391.93 211.61 L392.23 211.59 L392.54 211.58 L392.84 211.56 L393.14 211.55 L393.44 211.54 L393.75 211.52 L394.05 211.51 L394.35 211.50 L394.65 211.48 L394.95 211.47 L395.26 211.45 L395.56 211.44 L395.86 211.43 L396.16 211.41 L396.47 211.40 L396.77 211.39 L397.07 211.37 L397.37 211.36 L397.67 211.35 L397.98 211.33 L398.28 211.32 L398.58 211.31 L398.88 211.29 L399.19 211.28 L399.49 211.27 L399.79 211.25 L400.09 211.24 L400.39 211.23 L400.70 211.21 L401.00 211.20 L401.30 211.19 L401.60 211.17 L401.90 211.16 L402.21 211.15 L402.51 211.14 L402.81 211.12 L403.11 211.11 L403.42 211.10 L403.72 211.08 L404.02 211.07 L404.32 211.06 L404.62 211.04 L404.93 211.03 L405.23 211.02 L405.53 211.01 L405.83 210.99 L406.14 210.98 L406.44 210.97 L406.74 210.95 L407.04 210.94 L407.34 210.93 L407.65 210.92 L407.95 210.90 L408.25 210.89 L408.55 210.88 L408.86 210.86 L409.16 210.85 L409.46 210.84 L409.76 210.83 L410.06 210.81 L410.37 210.80 L410.67 210.79 L410.97 210.78 L411.27 210.76 L411.58 210.75 L411.88 210.74 L412.18 210.73 L412.48 210.71 L412.78 210.70 L413.09 210.69 L413.39 210.68 L413.69 210.66 L413.99 210.65 L414.30 210.64 L414.60 210.63 L414.90 210.61 L415.20 210.60 L415.50 210.59 L415.81 210.58 L416.11 210.56 L416.41 210.55 L416.71 210.54 L417.02 210.53 L417.32 210.51 L417.62 210.50 L417.92 210.49 L418.22 210.48 L418.53 210.47 L418.83 210.45 L419.13 210.44 L419.43 210.43 L419.73 210.42 L420.04 210.40 L420.34 210.39 L420.64 210.38 L420.94 210.37 L421.25 210.36 L421.55 210.34 L421.85 210.33 L422.15 210.32 L422.45 210.31 L422.76 210.30 L423.06 210.28 L423.36 210.27 L423.66 210.26 L423.97 210.25 L424.27 210.24 L424.57 210.23 L424.87 210.21 L425.17 210.20 L425.48 210.19 L425.78 210.18 L426.08 210.17 L426.38 210.15 L426.69 210.14 L426.99 210.13 L427.29 210.12 L427.59 210.11 L427.89 210.10 L428.20 210.08 L428.50 210.07 L428.80 210.06 L429.10 210.05 L429.41 210.04 L429.71 210.03 L430.01 210.01 L430.31 210.00 L430.61 209.99 L430.92 209.98 L431.22 209.97 L431.52 209.96 L431.82 209.94 L432.13 209.93 L432.43 209.92 L432.73 209.91 L433.03 209.90 L433.33 209.89 L433.64 209.88 L433.94 209.86 L434.24 209.85 L434.54 209.84 L434.84 209.83 L435.15 209.82 L435.45 209.81 L435.75 209.80 L436.05 209.78 L436.36 209.77 L436.66 209.76 L436.96 209.75 L437.26 209.74 L437.56 209.73 L437.87 209.72 L438.17 209.71 L438.47 209.69 L438.77 209.68 L439.08 209.67 L439.38 209.66 L439.68 209.65 L439.98 209.64 L440.28 209.63 L440.59 209.62 L440.89 209.61 L441.19 209.59 L441.49 209.58 L441.80 209.57 L442.10 209.56 L442.40 209.55 L442.70 209.54 L443.00 209.53 L443.31 209.52 L443.61 209.51 L443.91 209.50 L444.21 209.48 L444.52 209.47 L444.82 209.46 L445.12 209.45 L445.42 209.44 L445.72 209.43 L446.03 209.42 L446.33 209.41 L446.63 209.40 L446.93 209.39 L447.24 209.38 L447.54 209.37 L447.84 209.35 L448.14 209.34 L448.44 209.33 L448.75 209.32 L449.05 209.31 L449.35 209.30 L449.65 209.29 L449.95 209.28 L450.26 209.27 L450.56 209.26 L450.86 209.25 L451.16 209.24 L451.47 209.23 L451.77 209.22 L452.07 209.21 L452.37 209.19 L452.67 209.18 L452.98 209.17 L453.28 209.16 L453.58 209.15 L453.88 209.14 L454.19 209.13 L454.49 209.12 L454.79 209.11 L455.09 209.10 L455.39 209.09 L455.70 209.08 L456.00 209.07 L456.30 209.06 L456.60 209.05 L456.91 209.04 L457.21 209.03 L457.51 209.02 L457.81 209.01 L458.11 209.00 L458.42 208.99 L458.72 208.98 L459.02 208.96 L459.32 208.95 L459.63 208.94 L459.93 208.93 L460.23 208.92 L460.53 208.91 L460.83 208.90 L461.14 208.89 L461.44 208.88 L461.74 208.87 L462.04 208.86 L462.35 208.85 L462.65 208.84 L462.95 208.83 L463.25 208.82 L463.55 208.81 L463.86 208.80 L464.16 208.79 L464.46 208.78 L464.76 208.77 L465.07 208.76 L465.37 208.75 L465.67 208.74 L465.97 208.73 L466.27 208.72 L466.58 208.71 L466.88 208.70 L467.18 208.69 L467.48 208.68 L467.78 208.67 L468.09 208.66 L468.39 208.65 L468.69 208.64 L468.99 208.63 L469.30 208.62 L469.60 208.61 L469.90 208.60 L470.20 208.59 L470.50 208.58 L470.81 208.57 L471.11 208.56 L471.41 208.55 L471.71 208.54 L472.02 208.53 L472.32 208.52 L472.62 208.51 L472.92 208.50 L473.22 208.49 L473.53 208.48 L473.83 208.47 L474.13 208.46 L474.43 208.45 L474.74 208.45 L475.04 208.44 L475.34 208.43 L475.64 208.42 L475.94 208.41 L476.25 208.40 L476.55 208.39 L476.85 208.38 L477.15 208.37 L477.46 208.36 L477.76 208.35 L478.06 208.34 L478.36 208.33 L478.66 208.32 L478.97 208.31 L479.27 208.30 L479.57 208.29 L479.87 208.28 L480.18 208.27 L480.48 208.26 L480.78 208.25 L481.08 208.24 L481.38 208.23 L481.69 208.23 L481.99 208.22 L482.29 208.21 L482.59 208.20 L482.89 208.19 L483.20 208.18 L483.50 208.17 L483.80 208.16 L484.10 208.15 L484.41 208.14 L484.71 208.13 L485.01 208.12 L485.31 208.11 L485.61 208.10 L485.92 208.09 L486.22 208.08 L486.52 208.08 L486.82 208.07 L487.13 208.06 L487.43 208.05 L487.73 208.04 L488.03 208.03 L488.33 208.02 L488.64 208.01 L488.94 208.00 L489.24 207.99 L489.54 207.98 L489.85 207.97 L490.15 207.96 L490.45 207.96 L490.75 207.95 L491.05 207.94 L491.36 207.93 L491.66 207.92 L491.96 207.91 L492.26 207.90 L492.57 207.89 L492.87 207.88 L493.17 207.87 L493.47 207.86 L493.77 207.86 L494.08 207.85 L494.38 207.84 L494.68 207.83 L494.98 207.82 L495.29 207.81 L495.59 207.80 L495.89 207.79 L496.19 207.78 L496.49 207.77 L496.80 207.77 L497.10 207.76 L497.40 207.75 L497.70 207.74 L498.01 207.73 L498.31 207.72 L498.61 207.71 L498.91 207.70 L499.21 207.69 L499.52 207.69 L499.82 207.68 L500.12 207.67 L500.42 207.66 L500.72 207.65 L501.03 207.64 L501.33 207.63 L501.63 207.62 L501.93 207.61 L502.24 207.61 L502.54 207.60 L502.84 207.59 L503.14 207.58 L503.44 207.57 L503.75 207.56 L504.05 207.55 L504.35 207.54 L504.65 207.54 L504.96 207.53 L505.26 207.52 L505.56 207.51 L505.86 207.50 L506.16 207.49 L506.47 207.48 L506.77 207.48 L507.07 207.47 L507.37 207.46 L507.68 207.45 L507.98 207.44 L508.28 207.43 L508.58 207.42 L508.88 207.42 L509.19 207.41 L509.49 207.40 L509.79 207.39 L510.09 207.38 L510.40 207.37 L510.70 207.36 L511.00 207.36 L511.30 207.35 L511.60 207.34 L511.91 207.33 L512.21 207.32 L512.51 207.31 L512.81 207.30 L513.12 207.30 L513.42 207.29 L513.72 207.28 L514.02 207.27 L514.32 207.26 L514.63 207.25 L514.93 207.25 L515.23 207.24 L515.53 207.23 L515.83 207.22 L516.14 207.21 L516.44 207.20 L516.74 207.20 L517.04 207.19 L517.35 207.18 L517.65 207.17 L517.95 207.16 L518.25 207.15 L518.55 207.15 L518.86 207.14 L519.16 207.13 L519.46 207.12 L519.76 207.11 L520.07 207.10 L520.37 207.10 L520.67 207.09 L520.97 207.08 L521.27 207.07 L521.58 207.06 L521.88 207.05 L522.18 207.05 L522.48 207.04 L522.79 207.03 L523.09 207.02 L523.39 207.01 L523.69 207.01 L523.99 207.00 L524.30 206.99 L524.60 206.98 L524.90 206.97 L525.20 206.96 L525.51 206.96 L525.81 206.95 L526.11 206.94 L526.41 206.93 L526.71 206.92 L527.02 206.92 L527.32 206.91 L527.62 206.90 L527.92 206.89 L528.23 206.88 L528.53 206.88 L528.83 206.87 L529.13 206.86 L529.43 206.85 L529.74 206.84 L530.04 206.84 L530.34 206.83 L530.64 206.82 L530.94 206.81 L531.25 206.80 L531.55 206.80 L531.85 206.79 L532.15 206.78 L532.46 206.77 L532.76 206.76 L533.06 206.76 L533.36 206.75 L533.66 206.74 L533.97 206.73 L534.27 206.73 L534.57 206.72 L534.87 206.71 L535.18 206.70 L535.48 206.69 L535.78 206.69 L536.08 206.68 L536.38 206.67 L536.69 206.66 L536.99 206.65 L537.29 206.65 L537.59 206.64 L537.90 206.63 L538.20 206.62 L538.50 206.62" stroke="#ff00ff" stroke-dasharray="8.6 2.1 4.4 2.1" stroke-dashoffset="14.15"/>
<path d="M119.80 299.55 L119.86 300.40 L119.92 301.26 L119.95 301.76 L119.97 302.12 L120.02 302.97 L120.07 303.83 L120.11 304.69 L120.16 305.55 L120.20 306.40 L120.23 307.26 L120.25 307.70 L120.27 308.12 L120.30 308.98 L120.34 309.85 L120.37 310.71 L120.39 311.57 L120.42 312.43 L120.45 313.29 L120.47 314.16 L120.49 315.02 L120.51 315.88 L120.53 316.75 L120.55 317.61 L120.57 318.47 L120.59 319.34 L120.60 320.20 L120.62 321.07 L120.63 321.93 L120.64 322.80 L120.66 323.66 L120.67 324.53 L120.68 325.39 L120.69 326.26 L120.70 327.12 L120.71 327.99 L120.72 328.86 L120.73 329.72 L120.73 330.59 L120.74 331.45 L120.75 332.32 L120.76 333.19 L120.76 334.05 L120.77 334.92 L120.77 335.79 L120.78 336.65 L120.87 336.66 L120.87 336.66 L120.96 335.75 L120.97 334.88 L120.97 334.01 L120.98 333.14 L120.99 332.27 L120.99 331.40 L121.00 330.53 L121.01 329.66 L121.02 328.79 L121.03 327.92 L121.04 327.05 L121.05 326.18 L121.06 325.31 L121.07 324.44 L121.08 323.57 L121.09 322.70 L121.11 321.83 L121.12 320.96 L121.13 320.09 L121.15 319.22 L121.16 318.70 L121.17 318.34 L121.18 317.47 L121.20 316.60 L121.22 315.73 L121.24 314.86 L121.27 313.98 L121.29 313.11 L121.32 312.24 L121.34 311.36 L121.37 310.49 L121.40 309.62 L121.43 308.74 L121.46 307.96 L121.50 306.99 L121.54 306.12 L121.58 305.24 L121.62 304.36 L121.67 303.49 L121.71 302.61 L121.76 301.73 L121.82 300.85 L121.87 299.97 L121.93 299.09" stroke="#ff00ff"/>
</g>
<g class="t" font-size="22.70">
<text x="77.80" y="21.90" text-anchor="end">100</text>
<text x="77.80" y="108.80" text-anchor="end">50</text>
<text x="77.80" y="195.60" text-anchor="end">0</text>
<text x="77.80" y="282.40" text-anchor="end">-50</text>
<text x="77.80" y="369.00" text-anchor="end">-100</text>
<text x="85.50" y="390.90" text-anchor="middle">0</text>
<text x="198.62" y="390.90" text-anchor="middle">1</text>
<text x="311.75" y="390.90" text-anchor="middle">2</text>
<text x="424.88" y="390.90" text-anchor="middle">3</text>
<text x="538.00" y="390.90" text-anchor="middle">4</text>
</g>
<text class="t" font-size="24.30" x="311.30" y="423.50" text-anchor="middle">a/b</text>
<text class="t" font-size="24.30" text-anchor="middle" transform="translate(21.40 187.60) rotate(-90)">dB</text>
<rect x="357.40" y="24.90" width="168.90" height="85.70" fill="#ffffff" stroke="#555555" stroke-width="1.05"/>
<g fill="none" stroke-width="3.20">
<line x1="361.8" y1="40.80" x2="404.6" y2="40.80" stroke="#0000ff"/>
<line x1="361.8" y1="67.80" x2="404.6" y2="67.80" stroke="#ff0000" stroke-dasharray="8.6 8.5"/>
<line x1="361.8" y1="95.20" x2="404.6" y2="95.20" stroke="#ff00ff" stroke-dasharray="8.6 2.1 4.4 2.1"/>
</g>
<g class="lg" font-size="22.55">
<text x="416.90" y="48.80">Function 1</text>
<text x="416.90" y="76.50">Function 2</text>
<text x="416.90" y="103.70">Function 3</text>
</g>
<circle cx="522.7" cy="98.5" r="0.8" fill="#9a9a9a"/>
</svg>
</body></html>
